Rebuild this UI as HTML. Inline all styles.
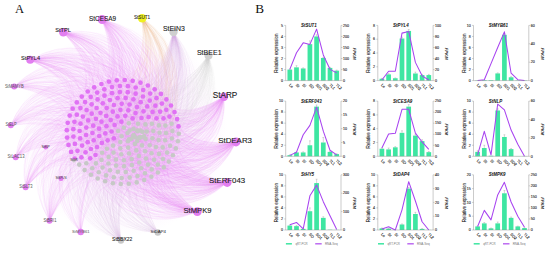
<!DOCTYPE html><html><head><meta charset="utf-8"><style>html,body{margin:0;padding:0;background:#fff;width:550px;height:254px;overflow:hidden;position:relative}</style></head><body><svg width="550" height="254" viewBox="0 0 550 254" style="position:absolute;left:0;top:0">
<defs><radialGradient id="haze" cx="122.8" cy="132" r="105" gradientUnits="userSpaceOnUse"><stop offset="0" stop-color="#e080f4" stop-opacity="0.12"/><stop offset="0.55" stop-color="#e080f4" stop-opacity="0.12"/><stop offset="1" stop-color="#e080f4" stop-opacity="0"/></radialGradient></defs>
<circle cx="122.8" cy="132" r="105" fill="url(#haze)"/>
<path d="M142.2 18.3Q171 112.6 97.7 178.5M142.2 18.3Q166.6 112.9 90.9 174.7M142.2 18.3Q162.4 112.7 84.6 170.1M142.2 18.3Q164.7 63.7 116.8 80.3M142.2 18.3Q179 51.5 140.5 82.7M142.2 18.3Q186.7 47 154.7 89.3M142.2 18.3Q198.5 94.5 151.4 176.7M142.2 18.3Q194.8 94.9 144.9 173.2M142.2 18.3Q187.8 102 129.7 177.6M142.2 18.3Q183.7 104.8 121.7 178M142.2 18.3Q179.4 107 113.8 177.3M142.2 18.3Q170.6 109.4 98.8 172.3M142.2 18.3Q154.9 106.5 77.5 150.8M142.2 18.3Q163 68.5 112 87.1M142.2 18.3Q167.8 64.3 119.9 86M142.2 18.3Q192.1 51.7 161.9 103.6M142.2 18.3Q199.8 86.1 157.8 164.6M142.2 18.3Q182.3 57 143 96.5M142.2 18.3Q189.6 55.8 155.4 105.7M142.2 18.3Q192.7 57.1 160.1 111.7M142.2 18.3Q195.2 59.4 163.5 118.4M142.2 18.3Q197.3 62.5 165.4 125.6M142.2 18.3Q199.5 70.7 165.1 140.3M142.2 18.3Q199.5 75.4 162.7 147.4M142.2 18.3Q198.7 80.2 159 153.9M142.2 18.3Q197.2 84.9 154 159.7M142.2 18.3Q192.2 93.7 141.1 168.3M142.2 18.3Q180.7 103.1 117.8 171.8M142.2 18.3Q163.4 105.9 90.2 158.3M142.2 18.3Q151.3 94.4 80.5 123.7M142.2 18.3Q151.3 90.8 82.9 116.6M142.2 18.3Q195.1 82.4 151.6 153.3M142.2 18.3Q193.1 87.1 146 158.5M142.2 18.3Q183.1 98.4 124 166.2M142.2 18.3Q174.4 102.3 108.4 163.5M142.2 18.3Q155.3 90.5 88.2 120.4M142.2 18.3Q168.7 70.1 117.6 98.2M142.2 18.3Q159.3 91 93.2 125.7M142.2 18.3Q159.6 87.2 95.9 118.8M142.2 18.3Q192.5 70.3 153.2 131M142.2 18.3Q192.9 79 149.7 145.2M142.2 18.3Q191.6 83.7 145.1 151.2M142.2 18.3Q165.3 98.7 97 147M142.2 18.3Q163.3 90.2 99.1 128.7M142.2 18.3Q189.5 73.1 146.8 131.6M142.2 18.3Q190 77.3 145.6 138.9M142.2 18.3Q189.2 81.9 142 145.4M142.2 18.3Q179.8 93.7 121.2 154.2M142.2 18.3Q174 92.6 113 145.6M142.2 18.3Q170.2 92.1 107.6 140.3M142.2 18.3Q186.1 75.2 140.3 130.6M142.2 18.3Q181.3 85.1 127.9 141.2M142.2 18.3Q187.4 74.9 142.5 131.8M142.2 18.3Q188.8 76.7 144 136.4M142.2 18.3Q184.5 80.5 135.2 137.3M142.2 18.3Q184.7 76.3 137.5 130.5" fill="none" stroke="#eaa870" stroke-width="0.6" stroke-opacity="0.135"/>
<path d="M102.1 19.5Q147.7 100.8 90.9 174.7M102.1 19.5Q133.7 96.7 71.1 151.9M102.1 19.5Q129.2 91.7 67.1 137.6M102.1 19.5Q127.7 88.6 66.8 130.2M102.1 19.5Q171.3 34.6 171 105.5M102.1 19.5Q180.8 49.6 178.8 133.8M102.1 19.5Q182 54.2 177.9 141.2M102.1 19.5Q182.7 63.8 172.9 155.3M102.1 19.5Q182.1 68.7 168.8 161.6M102.1 19.5Q181 73.4 163.8 167.4M102.1 19.5Q171.2 89.9 136.7 182.4M102.1 19.5Q160 97.9 112.9 183.2M102.1 19.5Q173.5 82.4 144.9 173.2M102.1 19.5Q167.2 89.6 129.7 177.6M102.1 19.5Q151.4 97 98.8 172.3M102.1 19.5Q140.1 95.7 81.4 157.3M102.1 19.5Q137 94 77.5 150.8M102.1 19.5Q134.5 91.8 74.9 143.9M102.1 19.5Q131.2 85.8 73.3 129.2M102.1 19.5Q131.7 73.7 80.4 108.1M102.1 19.5Q133.4 69 85.1 102.1M102.1 19.5Q141.7 53.1 104.3 89.3M102.1 19.5Q154.2 36.1 135.7 87.5M102.1 19.5Q157.4 34.5 143.2 90M102.1 19.5Q160.8 34.1 150.2 93.6M102.1 19.5Q167.4 36.4 161.9 103.6M102.1 19.5Q170.6 38.8 166.3 109.8M102.1 19.5Q179 54.4 171.9 138.5M102.1 19.5Q179.7 59.1 170.1 145.8M102.1 19.5Q139.8 61.7 97.6 99.4M102.1 19.5Q142.7 56.3 104.5 95.7M102.1 19.5Q152.3 42.6 127.8 92.2M102.1 19.5Q165.5 39.9 155.4 105.7M102.1 19.5Q171.4 45 163.5 118.4M102.1 19.5Q176.5 57.5 165.1 140.3M102.1 19.5Q175.3 72.1 154 159.7M102.1 19.5Q173.5 76.7 148 164.6M102.1 19.5Q168 84.7 133.6 170.8M102.1 19.5Q164.5 87.9 125.7 172M102.1 19.5Q160.6 90.5 117.8 171.8M102.1 19.5Q156.6 92.3 110 170.3M102.1 19.5Q152.5 93.3 102.6 167.5M102.1 19.5Q148.6 93.6 95.9 163.4M102.1 19.5Q144.9 93.1 90.2 158.3M102.1 19.5Q138.7 89.9 82.1 145.6M102.1 19.5Q135 84.2 79.6 131M102.1 19.5Q134.4 80.5 80.5 123.7M102.1 19.5Q134.5 76.4 82.9 116.6M102.1 19.5Q135.6 71.8 86.6 110.1M102.1 19.5Q137.3 66.9 91.6 104.3M102.1 19.5Q171.6 74 146 158.5M102.1 19.5Q162.7 85.4 124 166.2M102.1 19.5Q143.8 88.3 90.9 149M102.1 19.5Q138 75.9 88.2 120.4M102.1 19.5Q146 55.9 109.9 100M102.1 19.5Q149.1 51.1 117.6 98.2M102.1 19.5Q152.4 47.2 125.6 97.9M102.1 19.5Q155.8 44.5 133.4 99.3M102.1 19.5Q159.2 43.2 140.7 102.2M102.1 19.5Q165.8 44.7 152.6 111.9M102.1 19.5Q168.7 47.2 156.5 118.3M102.1 19.5Q171.1 50.7 158.9 125.4M102.1 19.5Q141.9 71.8 95.9 118.8M102.1 19.5Q143.3 66.8 100.5 112.8M102.1 19.5Q145.6 61.7 106.7 108.1M102.1 19.5Q151.8 52.4 121.7 103.8M102.1 19.5Q158.7 47.7 137 107.1M102.1 19.5Q169.8 55.9 153.2 131M102.1 19.5Q170.9 65.3 149.7 145.2M102.1 19.5Q170 70.2 145.1 151.2M102.1 19.5Q168 74.9 138.9 155.9M102.1 19.5Q165.2 79 131.7 159M102.1 19.5Q153.9 85.9 108.6 156.9M102.1 19.5Q146.7 85.1 97 147M102.1 19.5Q144 83.1 93.7 140.3M102.1 19.5Q142.2 80.1 92.4 133M102.1 19.5Q151.8 82.3 106.9 148.7M102.1 19.5Q148.5 81.3 101.9 142.9M102.1 19.5Q146.1 78.9 99.2 136M102.1 19.5Q145 75.3 99.1 128.7M102.1 19.5Q145.1 70.9 101.5 121.7M102.1 19.5Q165.4 54.8 145.4 124.4M102.1 19.5Q167.3 58.5 146.8 131.6M102.1 19.5Q167.6 68 142 145.4M102.1 19.5Q159.6 80.1 121.2 154.2M102.1 19.5Q154.4 78.5 113 145.6M102.1 19.5Q151.6 71.7 111.6 131.5M102.1 19.5Q152 67.1 114.6 125M102.1 19.5Q154.6 62.5 121.4 121.7M102.1 19.5Q158.1 60.4 128.8 123.2M102.1 19.5Q161.1 61.8 133.5 128.9M102.1 19.5Q154.5 68.8 118.1 131M102.1 19.5Q165.5 60.1 142.5 131.8M102.1 19.5Q166.9 62.2 144 136.4M102.1 19.5Q163.3 65.9 135.2 137.3M102.1 19.5Q165.3 64.3 139.7 137.4M102.1 19.5Q159.7 64.1 129.7 130.5" fill="none" stroke="#e68cf8" stroke-width="0.6" stroke-opacity="0.150"/>
<path d="M63.3 32.3Q107.7 79.7 66.8 130.2M63.3 32.3Q107 75.5 67.7 122.8M63.3 32.3Q106.9 70.9 69.7 115.6M63.3 32.3Q108 60 76.8 102.4M63.3 32.3Q110.3 47.6 87.7 91.5M63.3 32.3Q111.4 41.4 94.2 87.3M63.3 32.3Q112.6 35.8 101.4 84M63.3 32.3Q121.3 23.2 132.7 80.8M63.3 32.3Q136.3 24.8 161 93.9M63.3 32.3Q143.8 29.6 171 105.5M63.3 32.3Q152.7 40.4 178.5 126.4M63.3 32.3Q157.2 63.5 168.8 161.6M63.3 32.3Q156.3 68.1 163.8 167.4M63.3 32.3Q152.9 76.7 151.4 176.7M63.3 32.3Q147.6 84 136.7 182.4M63.3 32.3Q137.3 91.6 112.9 183.2M63.3 32.3Q143.8 83.4 129.7 177.6M63.3 32.3Q133 89.4 106.1 175.4M63.3 32.3Q129.2 90.1 98.8 172.3M63.3 32.3Q118.8 88.1 81.4 157.3M63.3 32.3Q116 86.1 77.5 150.8M63.3 32.3Q111.9 80.2 73.4 136.6M63.3 32.3Q110.1 71.9 74.4 121.8M63.3 32.3Q111.4 55.6 85.1 102.1M63.3 32.3Q116.8 33.8 112 87.1M63.3 32.3Q139.7 30.5 161.9 103.6M63.3 32.3Q143.3 33.3 166.3 109.8M63.3 32.3Q146.5 36.6 169.5 116.6M63.3 32.3Q151.5 44.6 172.4 131.1M63.3 32.3Q154.1 53.8 170.1 145.8M63.3 32.3Q154.5 58.6 167.1 152.6M63.3 32.3Q153.2 68 157.8 164.6M63.3 32.3Q141.4 35.8 160.1 111.7M63.3 32.3Q151.5 56.6 162.7 147.4M63.3 32.3Q151.4 61.5 159 153.9M63.3 32.3Q149.1 70.6 148 164.6M63.3 32.3Q141 81.4 125.7 172M63.3 32.3Q130.1 86.2 102.6 167.5M63.3 32.3Q123 85.4 90.2 158.3M63.3 32.3Q115.3 78.4 80.2 138.4M63.3 32.3Q113.9 74.6 79.6 131M63.3 32.3Q113.1 70.2 80.5 123.7M63.3 32.3Q114.3 53.8 91.6 104.3M63.3 32.3Q145 71.9 139.3 162.5M63.3 32.3Q142.4 75.6 131.9 165.1M63.3 32.3Q139.2 78.6 124 166.2M63.3 32.3Q132 82 108.4 163.5M63.3 32.3Q128.4 82.3 101.5 159.9M63.3 32.3Q124.9 81.7 95.5 155M63.3 32.3Q118.2 48.3 102.8 103.3M63.3 32.3Q119.8 43.3 109.9 100M63.3 32.3Q121.9 39.3 117.6 98.2M63.3 32.3Q127.7 35 133.4 99.3M63.3 32.3Q141.8 40.8 156.5 118.3M63.3 32.3Q144.6 44.4 158.9 125.4M63.3 32.3Q146.7 48.7 159.6 132.7M63.3 32.3Q122.5 45.1 113.9 105M63.3 32.3Q124.9 41.6 121.7 103.8M63.3 32.3Q141.4 45.2 151.9 123.7M63.3 32.3Q141.2 72.1 131.7 159M63.3 32.3Q138.1 75.2 123.9 160.2M63.3 32.3Q134.6 77.3 116 159.5M63.3 32.3Q121.9 65.4 99.1 128.7M63.3 32.3Q122.2 54.8 106.2 115.9M63.3 32.3Q129 43.6 128.3 110.3M63.3 32.3Q132.4 43.2 135.6 113.1M63.3 32.3Q135.9 44.6 141.5 118M63.3 32.3Q142.6 56.1 145.6 138.9M63.3 32.3Q142.6 61 142 145.4M63.3 32.3Q132.3 74.1 113.5 152.6M63.3 32.3Q139.4 62.2 134.9 143.9M63.3 32.3Q137.4 66.5 128.1 147.6M63.3 32.3Q124.8 55.8 110.7 120.1M63.3 32.3Q126.5 51.1 117.5 116.4M63.3 32.3Q136 49.1 138 123.7M63.3 32.3Q138.6 52.6 140.3 130.6M63.3 32.3Q132.4 51.6 128.8 123.2M63.3 32.3Q136 62.8 127.9 141.2M63.3 32.3Q133.1 65.8 120.3 142.1M63.3 32.3Q129.8 65.7 113.9 138.3M63.3 32.3Q130 59.8 118.1 131M63.3 32.3Q137.6 53.8 137.5 131.2M63.3 32.3Q139.7 52.7 142.5 131.8M63.3 32.3Q141.4 55.1 144 136.4M63.3 32.3Q138.1 58.2 135.2 137.3M63.3 32.3Q137.5 53.4 137.5 130.5" fill="none" stroke="#e68cf8" stroke-width="0.6" stroke-opacity="0.150"/>
<path d="M30.2 59.7Q106.1 95.1 97.7 178.5M30.2 59.7Q102.6 95 90.9 174.7M30.2 59.7Q90.1 88.3 71.1 151.9M30.2 59.7Q85.6 81.1 67.1 137.6M30.2 59.7Q82.5 71.3 67.7 122.8M30.2 59.7Q81.2 65.6 69.7 115.6M30.2 59.7Q80 59.5 72.7 108.7M30.2 59.7Q83.1 29.8 116.8 80.3M30.2 59.7Q86.4 28.3 124.8 80M30.2 59.7Q98.9 27.6 147.9 85.5M30.2 59.7Q119.8 37.9 174.5 112.1M30.2 59.7Q123 41.4 177.1 119.1M30.2 59.7Q125.8 45.3 178.5 126.4M30.2 59.7Q130.9 58.3 175.9 148.4M30.2 59.7Q131.4 67.3 168.8 161.6M30.2 59.7Q123 86.7 136.7 182.4M30.2 59.7Q109.7 94.6 105.1 181.3M30.2 59.7Q121.9 82.8 137.5 176M30.2 59.7Q108.9 90.8 106.1 175.4M30.2 59.7Q105.3 91.1 98.8 172.3M30.2 59.7Q101.8 90.8 92.2 168.2M30.2 59.7Q95.2 87.8 81.4 157.3M30.2 59.7Q86 73.2 73.3 129.2M30.2 59.7Q82 56.2 80.4 108.1M30.2 59.7Q80.7 45.4 90.7 96.9M30.2 59.7Q81 40.9 97.2 92.6M30.2 59.7Q82.1 37.3 104.3 89.3M30.2 59.7Q98.5 30.9 143.2 90M30.2 59.7Q102.9 31.7 150.2 93.6M30.2 59.7Q122.1 45 171.6 123.8M30.2 59.7Q128.3 62.5 167.1 152.6M30.2 59.7Q89.4 36 119.9 92M30.2 59.7Q92.7 34.7 127.8 92.2M30.2 59.7Q105.1 35.7 149.7 100.6M30.2 59.7Q109.4 37.6 155.4 105.7M30.2 59.7Q116.9 43.5 163.5 118.4M30.2 59.7Q120 47.2 165.4 125.6M30.2 59.7Q122.4 51.3 166 133M30.2 59.7Q125.1 60.3 162.7 147.4M30.2 59.7Q121.5 77.4 141.1 168.3M30.2 59.7Q119.1 80.7 133.6 170.8M30.2 59.7Q116.1 83.4 125.7 172M30.2 59.7Q102.3 86.7 95.9 163.4M30.2 59.7Q85.6 61.2 82.9 116.6M30.2 59.7Q84 50.1 91.6 104.3M30.2 59.7Q119.4 74.4 139.3 162.5M30.2 59.7Q117 77.7 131.9 165.1M30.2 59.7Q114.1 80.3 124 166.2M30.2 59.7Q110.8 82.1 116.1 165.6M30.2 59.7Q100.2 81.7 95.5 155M30.2 59.7Q90 67.4 86.3 127.6M30.2 59.7Q87.5 46.6 102.8 103.3M30.2 59.7Q101.9 38.2 140.7 102.2M30.2 59.7Q106.1 39.5 147.2 106.4M30.2 59.7Q110.2 41.7 152.6 111.9M30.2 59.7Q113.9 44.7 156.5 118.3M30.2 59.7Q90.7 48.8 106.7 108.1M30.2 59.7Q98.1 41.7 129.6 104.5M30.2 59.7Q110.2 45.4 148.6 117M30.2 59.7Q116.4 52.7 153.2 131M30.2 59.7Q118.3 57.1 152.4 138.3M30.2 59.7Q119.1 61.8 149.7 145.2M30.2 59.7Q115.4 74.1 131.7 159M30.2 59.7Q112.6 76.8 123.9 160.2M30.2 59.7Q109.3 78.5 116 159.5M30.2 59.7Q102.2 78.3 102.1 152.7M30.2 59.7Q98.9 76.3 97 147M30.2 59.7Q96 73.1 93.7 140.3M30.2 59.7Q99.7 72.3 101.9 142.9M30.2 59.7Q96.9 68.7 99.2 136M30.2 59.7Q94.2 49.6 112.8 111.7M30.2 59.7Q96.4 46.8 120.4 109.8M30.2 59.7Q107.6 47.4 141.5 118M30.2 59.7Q111.2 50.4 145.4 124.4M30.2 59.7Q115.6 58.9 145.6 138.9M30.2 59.7Q112.7 64.3 134.9 143.9M30.2 59.7Q108.2 70.4 120.3 148.2M30.2 59.7Q104.7 70.8 113 145.6M30.2 59.7Q104.1 49.4 132.6 118.4M30.2 59.7Q108 51.5 138 123.7M30.2 59.7Q100.8 53.9 121.4 121.7M30.2 59.7Q109.2 64.3 127.9 141.2M30.2 59.7Q106.5 66.7 120.3 142.1M30.2 59.7Q105.4 62.8 121.7 136.3M30.2 59.7Q113.2 58.9 140.9 137.2M30.2 59.7Q110.1 56.1 137.5 131.2M30.2 59.7Q114.2 57.8 144 136.4" fill="none" stroke="#e68cf8" stroke-width="0.6" stroke-opacity="0.150"/>
<path d="M14.2 86.4Q90.5 101.1 97.7 178.5M14.2 86.4Q70.7 88.4 68.5 144.9M14.2 86.4Q56.8 62.6 72.7 108.7M14.2 86.4Q54.6 46.8 94.2 87.3M14.2 86.4Q62.9 40 116.8 80.3M14.2 86.4Q71.3 37.9 132.7 80.8M14.2 86.4Q113.2 62.7 177.9 141.2M14.2 86.4Q109.6 91 144.2 180M14.2 86.4Q104.2 96.5 128.8 183.7M14.2 86.4Q101 98.5 120.8 184M14.2 86.4Q94.1 100.9 105.1 181.3M14.2 86.4Q105.7 90 137.5 176M14.2 86.4Q99.9 94.8 121.7 178M14.2 86.4Q85.7 96.3 92.2 168.2M14.2 86.4Q72.4 85.7 74.9 143.9M14.2 86.4Q59.3 60.7 80.4 108.1M14.2 86.4Q63.4 44.1 112 87.1M14.2 86.4Q75.4 40.7 135.7 87.5M14.2 86.4Q89.4 43 156.5 98.2M14.2 86.4Q105 54.2 171.6 123.8M14.2 86.4Q62.2 52.7 97.6 99.4M14.2 86.4Q63.6 49.6 104.5 95.7M14.2 86.4Q66 47.2 112 93.2M14.2 86.4Q82.3 44.2 143 96.5M14.2 86.4Q91.5 47.1 155.4 105.7M14.2 86.4Q108.1 77.3 154 159.7M14.2 86.4Q75.4 84.7 82.1 145.6M14.2 86.4Q69.4 75.8 79.6 131M14.2 86.4Q102.7 81.8 139.3 162.5M14.2 86.4Q100.4 84.8 131.9 165.1M14.2 86.4Q97.5 87.2 124 166.2M14.2 86.4Q79.6 84.5 90.9 149M14.2 86.4Q70.3 71.8 86.3 127.6M14.2 86.4Q68 66.8 88.2 120.4M14.2 86.4Q65.7 57.7 96.6 108M14.2 86.4Q78.7 47.1 133.4 99.3M14.2 86.4Q92.3 50.9 152.6 111.9M14.2 86.4Q102.4 61.1 159.6 132.7M14.2 86.4Q104.2 65.3 158.6 140.1M14.2 86.4Q75 51.3 121.7 103.8M14.2 86.4Q100.6 78 138.9 155.9M14.2 86.4Q88.7 85.1 108.6 156.9M14.2 86.4Q81.2 81.7 97 147M14.2 86.4Q85.5 80.4 106.9 148.7M14.2 86.4Q81.7 78 101.9 142.9M14.2 86.4Q74.3 57.2 112.8 111.7M14.2 86.4Q84.9 54.2 135.6 113.1M14.2 86.4Q98.2 66.9 145.6 138.9M14.2 86.4Q95.2 71.8 134.9 143.9M14.2 86.4Q90.6 77.2 120.3 148.2M14.2 86.4Q91.9 67.5 133.1 136" fill="none" stroke="#e68cf8" stroke-width="0.6" stroke-opacity="0.150"/>
<path d="M10.8 125.2Q56.3 103.9 71.1 151.9M10.8 125.2Q46.8 95.6 67.1 137.6M10.8 125.2Q42 91.4 66.8 130.2M10.8 125.2Q37.7 87.5 67.7 122.8M10.8 125.2Q31.2 77.4 76.8 102.4M10.8 125.2Q31.5 74.3 81.8 96.6M10.8 125.2Q32.9 71.2 87.7 91.5M10.8 125.2Q50.7 59.5 124.8 80M10.8 125.2Q80.1 61.3 166.4 99.4M10.8 125.2Q95 72.7 178.5 126.4M10.8 125.2Q97.5 76.4 178.8 133.8M10.8 125.2Q99.4 80.3 177.9 141.2M10.8 125.2Q100.7 84.3 175.9 148.4M10.8 125.2Q93.9 109.4 136.7 182.4M10.8 125.2Q91 111.7 128.8 183.7M10.8 125.2Q84.4 114.5 112.9 183.2M10.8 125.2Q94.5 102.7 144.9 173.2M10.8 125.2Q58.1 101.9 77.5 150.8M10.8 125.2Q39.2 69.7 97.2 92.6M10.8 125.2Q45.8 64.8 112 87.1M10.8 125.2Q50 62.9 119.9 86M10.8 125.2Q54.6 61.6 127.9 86.2M10.8 125.2Q69.6 61.2 150.2 93.6M10.8 125.2Q87.4 69.1 169.5 116.6M10.8 125.2Q48.1 67.3 112 93.2M10.8 125.2Q56.8 64.2 127.8 92.2M10.8 125.2Q92.9 81.8 165.1 140.3M10.8 125.2Q94.5 89.9 159 153.9M10.8 125.2Q94.1 93.8 154 159.7M10.8 125.2Q44.8 86 80.5 123.7M10.8 125.2Q90.8 86.7 155.9 147M10.8 125.2Q86.1 100.4 131.9 165.1M10.8 125.2Q71.3 102.8 101.5 159.9M10.8 125.2Q53.5 91 86.1 135M10.8 125.2Q49.8 87.1 86.3 127.6M10.8 125.2Q47 73.2 102.8 103.3M10.8 125.2Q53.3 68.5 117.6 98.2M10.8 125.2Q67.4 66.6 140.7 102.2M10.8 125.2Q77.1 69.4 152.6 111.9M10.8 125.2Q50.3 81.3 95.9 118.8M10.8 125.2Q51.2 74.7 106.7 108.1M10.8 125.2Q62.3 69.4 129.6 104.5M10.8 125.2Q87.2 86.7 149.7 145.2M10.8 125.2Q68.7 72.6 135.6 113.1M10.8 125.2Q78.1 91.3 128.1 147.6M10.8 125.2Q58.6 79.7 110.7 120.1M10.8 125.2Q64.3 75.4 125.3 115.8M10.8 125.2Q63.9 85.3 111.6 131.5M10.8 125.2Q80.2 83.8 140.9 137.2M10.8 125.2Q79 80.8 142.5 131.8M10.8 125.2Q77.5 84.7 135.2 137.3" fill="none" stroke="#e68cf8" stroke-width="0.6" stroke-opacity="0.150"/>
<path d="M15.7 157.2Q21.1 108.8 67.7 122.8M15.7 157.2Q67.7 78.1 161 93.9M15.7 157.2Q93 100.8 175.9 148.4M15.7 157.2Q93.7 104.7 172.9 155.3M15.7 157.2Q86.2 118 144.9 173.2M15.7 157.2Q73.4 125.1 113.8 177.3M15.7 157.2Q59.6 123.5 92.2 168.2M15.7 157.2Q54.3 121.7 86.3 163.2M15.7 157.2Q32.1 111.9 73.4 136.6M15.7 157.2Q28 109.4 73.3 129.2M15.7 157.2Q24.7 97.3 85.1 102.1M15.7 157.2Q32.8 87.7 104.3 89.3M15.7 157.2Q71.1 82.2 161.9 103.6M15.7 157.2Q89.3 111.6 157.8 164.6M15.7 157.2Q34.9 90.1 104.5 95.7M15.7 157.2Q43.1 85.2 119.9 92M15.7 157.2Q68.2 84.2 155.4 105.7M15.7 157.2Q84.5 113.1 148 164.6M15.7 157.2Q76.7 120.4 125.7 172M15.7 157.2Q33.1 108.6 79.6 131M15.7 157.2Q68.6 87.4 152.6 111.9M15.7 157.2Q81.2 99.4 158.6 140.1M15.7 157.2Q38 100.7 95.9 118.8M15.7 157.2Q38.5 97.5 100.5 112.8M15.7 157.2Q66.8 115.3 116 159.5M15.7 157.2Q62 115.1 108.6 156.9M15.7 157.2Q56.8 114 102.1 152.7M15.7 157.2Q68.7 94.2 145.4 124.4M15.7 157.2Q74 100.8 145.6 138.9M15.7 157.2Q74.5 104.5 142 145.4M15.7 157.2Q70.2 101.3 139.2 137.8M15.7 157.2Q47.3 101.6 106.4 126.2M15.7 157.2Q54.4 93.9 125.3 115.8M15.7 157.2Q59.5 93.7 132.6 118.4M15.7 157.2Q64.4 95.1 138 123.7M15.7 157.2Q52.6 102.9 111.6 131.5M15.7 157.2Q54.3 97.1 121.4 121.7M15.7 157.2Q63.8 98.2 133.5 128.9M15.7 157.2Q66.3 101.4 133.1 136M15.7 157.2Q62 101 127.5 133M15.7 157.2Q60.2 103.4 121.7 136.3M15.7 157.2Q66.8 98.5 137.5 131.2M15.7 157.2Q62.3 99.5 129.7 130.5M15.7 157.2Q66.4 103 131.4 138.8" fill="none" stroke="#e68cf8" stroke-width="0.6" stroke-opacity="0.150"/>
<path d="M25.6 187.3Q44.7 142.9 84.6 170.1M25.6 187.3Q25.8 140.7 71.1 151.9M25.6 187.3Q14.9 136.2 66.8 130.2M25.6 187.3Q16.3 118.8 81.8 96.6M25.6 187.3Q68 98.5 166.4 99.4M25.6 187.3Q62.4 144.5 105.1 181.3M25.6 187.3Q65 141.2 113.8 177.3M25.6 187.3Q17.4 127.2 76.8 114.7M25.6 187.3Q21.9 116 90.7 96.9M25.6 187.3Q74.6 105.2 169.5 116.6M25.6 187.3Q34 108.3 112 93.2M25.6 187.3Q38.5 105.8 119.9 92M25.6 187.3Q43.4 103.9 127.8 92.2M25.6 187.3Q71.7 107.1 163.5 118.4M25.6 187.3Q75 109.9 165.4 125.6M25.6 187.3Q80.3 119.9 162.7 147.4M25.6 187.3Q78.3 130.1 148 164.6M25.6 187.3Q64.7 138.1 117.8 171.8M25.6 187.3Q59.7 138.7 110 170.3M25.6 187.3Q76.2 124.4 151.6 153.3M25.6 187.3Q75 127.6 146 158.5M25.6 187.3Q72.8 130.5 139.3 162.5M25.6 187.3Q69.7 132.9 131.9 165.1M25.6 187.3Q65.7 134.6 124 166.2M25.6 187.3Q33.4 132.8 87.7 142.2M25.6 187.3Q26.4 125.3 88.2 120.4M25.6 187.3Q58.8 105.3 147.2 106.4M25.6 187.3Q73.9 114 159.6 132.7M25.6 187.3Q38.3 112.4 113.9 105M25.6 187.3Q62.6 109.4 148.6 117M25.6 187.3Q66.6 111.6 151.9 123.7M25.6 187.3Q63.3 132 123.9 160.2M25.6 187.3Q47.1 133 102.1 152.7M25.6 187.3Q36.7 130.5 93.7 140.3M25.6 187.3Q48.4 130.5 106.9 148.7M25.6 187.3Q38.7 127.7 99.2 136M25.6 187.3Q35.4 121.9 101.5 121.7M25.6 187.3Q36.6 118.5 106.2 115.9M25.6 187.3Q63 113.1 145.4 124.4M25.6 187.3Q67.9 119.1 145.6 138.9M25.6 187.3Q56.4 127.6 120.3 148.2M25.6 187.3Q45.7 127.2 107.6 140.3M25.6 187.3Q40.7 119 110.7 120.1M25.6 187.3Q58.4 114.3 138 123.7M25.6 187.3Q47.8 117 121.4 121.7M25.6 187.3Q58.4 123.4 127.9 141.2M25.6 187.3Q48.8 125.1 113.9 138.3M25.6 187.3Q60.6 117.4 137.5 131.2M25.6 187.3Q61.3 120.4 135.2 137.3M25.6 187.3Q55.7 118.7 129.7 130.5" fill="none" stroke="#e68cf8" stroke-width="0.6" stroke-opacity="0.150"/>
<path d="M49.5 220.7Q36.5 174.1 84.6 170.1M49.5 220.7Q23.2 174.7 71.1 151.9M49.5 220.7Q20.5 173.1 68.5 144.9M49.5 220.7Q16.4 163.9 67.7 122.8M49.5 220.7Q22.3 142.5 87.7 91.5M49.5 220.7Q25.3 138.4 94.2 87.3M49.5 220.7Q36.8 128.3 116.8 80.3M49.5 220.7Q41.4 125.9 124.8 80M49.5 220.7Q46.1 124 132.7 80.8M49.5 220.7Q65.2 122.1 161 93.9M49.5 220.7Q83.3 131.6 178.5 126.4M49.5 220.7Q85.5 134.6 178.8 133.8M49.5 220.7Q87.9 148.2 168.8 161.6M49.5 220.7Q71.8 164.9 128.8 183.7M49.5 220.7Q77.6 157.6 144.9 173.2M49.5 220.7Q65 164.4 121.7 178M49.5 220.7Q47.3 169.1 98.8 172.3M49.5 220.7Q27.1 171.1 77.5 150.8M49.5 220.7Q25 143.8 90.7 96.9M49.5 220.7Q54 125 143.2 90M49.5 220.7Q67.9 125.9 161.9 103.6M49.5 220.7Q72 127.4 166.3 109.8M49.5 220.7Q81 134.9 172.4 131.1M49.5 220.7Q82.8 138 171.9 138.5M49.5 220.7Q84.1 144.8 167.1 152.6M49.5 220.7Q83.6 148.2 163 159M49.5 220.7Q40.8 132.4 119.9 92M49.5 220.7Q55.3 127.8 143 96.5M49.5 220.7Q60.1 127.7 149.7 100.6M49.5 220.7Q75.4 134.1 165.4 125.6M49.5 220.7Q79.2 140.2 165.1 140.3M49.5 220.7Q78.5 150.4 154 159.7M49.5 220.7Q69.8 159.1 133.6 170.8M49.5 220.7Q66.7 157.3 131.9 165.1M49.5 220.7Q27.9 158.3 86.3 127.6M49.5 220.7Q30.3 146.5 96.6 108M49.5 220.7Q33.1 142.4 102.8 103.3M49.5 220.7Q68.3 133.2 156.5 118.3M49.5 220.7Q69.6 139.1 153.2 131M49.5 220.7Q54.6 159.5 116 159.5M49.5 220.7Q48.9 160.9 108.6 156.9M49.5 220.7Q43.4 161.7 102.1 152.7M49.5 220.7Q40.8 158.3 101.9 142.9M49.5 220.7Q44.7 139.5 120.4 109.8M49.5 220.7Q62.9 145.2 139.2 137.8M49.5 220.7Q48.9 140.5 125.3 115.8M49.5 220.7Q54 139.4 132.6 118.4M49.5 220.7Q44.2 150.8 111.6 131.5M49.5 220.7Q57.1 143.3 133.5 128.9M49.5 220.7Q47.3 152.6 113.9 138.3M49.5 220.7Q55.2 144.9 129.7 130.5" fill="none" stroke="#e68cf8" stroke-width="0.6" stroke-opacity="0.150"/>
<path d="M80.7 232Q54.5 194.2 97.7 178.5M80.7 232Q80.1 137.6 166.4 99.4M80.7 232Q90.7 142.9 177.1 119.1M80.7 232Q90.5 171.7 151.4 176.7M80.7 232Q87 174.8 144.2 180M80.7 232Q39 193 77.5 150.8M80.7 232Q82.2 142 166.3 109.8M80.7 232Q92.3 162.2 163 159M80.7 232Q79 144.5 160.1 111.7M80.7 232Q88.9 157.9 162.7 147.4M80.7 232Q38.4 185.4 80.2 138.4M80.7 232Q37 182 79.6 131M80.7 232Q36.5 173.4 82.9 116.6M80.7 232Q37.4 168.8 86.6 110.1M80.7 232Q74 173.9 131.9 165.1M80.7 232Q69.1 177.2 124 166.2M80.7 232Q40.9 181.1 86.1 135M80.7 232Q48.2 155.6 109.9 100M80.7 232Q78.3 148.3 156.5 118.3M80.7 232Q45.7 180.2 93.7 140.3M80.7 232Q48.1 175.9 99.2 136M80.7 232Q46.8 172.7 99.1 128.7M80.7 232Q69.3 152.7 141.5 118M80.7 232Q76.2 159.7 145.6 138.9M80.7 232Q73.1 167.1 136.3 150.4M80.7 232Q59.3 176.7 113.5 152.6M80.7 232Q62.6 172.2 120.3 148.2M80.7 232Q71.2 158.2 140.3 130.6M80.7 232Q63.9 163.5 127.5 133M80.7 232Q74.7 159.3 144 136.4M80.7 232Q67.5 164.4 131.4 138.8" fill="none" stroke="#e68cf8" stroke-width="0.6" stroke-opacity="0.150"/>
<path d="M120.9 240.5Q61.1 220.2 74.6 158.5M120.9 240.5Q55.8 214 68.5 144.9M120.9 240.5Q53.8 210.1 67.1 137.6M120.9 240.5Q57 172.7 94.2 87.3M120.9 240.5Q63.2 165 108.9 81.6M120.9 240.5Q91.9 153.8 161 93.9M120.9 240.5Q105.4 159.6 177.1 119.1M120.9 240.5Q107.6 162.2 178.5 126.4M120.9 240.5Q110.2 175.5 172.9 155.3M120.9 240.5Q109.1 179.3 168.8 161.6M120.9 240.5Q107.2 183.4 163.8 167.4M120.9 240.5Q104.6 187.5 157.9 172.5M120.9 240.5Q93 201.7 136.7 182.4M120.9 240.5Q80.6 216.9 112.9 183.2M120.9 240.5Q92.4 198.8 137.5 176M120.9 240.5Q76.4 216.4 106.1 175.4M120.9 240.5Q63.4 216.9 81.4 157.3M120.9 240.5Q56.1 207.3 73.4 136.6M120.9 240.5Q54.7 203 73.3 129.2M120.9 240.5Q53.8 198.3 74.4 121.8M120.9 240.5Q54 188.6 80.4 108.1M120.9 240.5Q59.2 174.5 97.2 92.6M120.9 240.5Q81.8 157.8 143.2 90M120.9 240.5Q106.5 172.8 170.1 145.8M120.9 240.5Q63.1 173.7 104.5 95.7M120.9 240.5Q70.1 166.6 119.9 92M120.9 240.5Q82.7 161 143 96.5M120.9 240.5Q99.8 166.2 165.4 125.6M120.9 240.5Q101.5 169.1 166 133M120.9 240.5Q101.3 180.2 159 153.9M120.9 240.5Q96.7 189.1 148 164.6M120.9 240.5Q85.1 203.6 125.7 172M120.9 240.5Q81.1 207.9 117.8 171.8M120.9 240.5Q59.2 205.9 80.2 138.4M120.9 240.5Q98.1 178.7 155.9 147M120.9 240.5Q79.3 205.6 116.1 165.6M120.9 240.5Q68.5 209.5 95.5 155M120.9 240.5Q65.5 208 90.9 149M120.9 240.5Q61.1 201.7 86.1 135M120.9 240.5Q60 187.8 91.7 113.7M120.9 240.5Q69.9 170.5 117.6 98.2M120.9 240.5Q73.9 167.6 125.6 97.9M120.9 240.5Q78.1 165.5 133.4 99.3M120.9 240.5Q90.3 164.8 152.6 111.9M120.9 240.5Q98.4 174.8 158.6 140.1M120.9 240.5Q63.9 184.1 100.5 112.8M120.9 240.5Q69.1 175.3 113.9 105M120.9 240.5Q91.8 170.3 151.9 123.7M120.9 240.5Q93.8 173 153.2 131M120.9 240.5Q94.6 176.4 152.4 138.3M120.9 240.5Q94.2 180.5 149.7 145.2M120.9 240.5Q82.4 198.9 123.9 160.2M120.9 240.5Q67.8 204.2 97 147M120.9 240.5Q67 197.2 99.2 136M120.9 240.5Q81.3 171.4 135.6 113.1M120.9 240.5Q85.2 171.5 141.5 118M120.9 240.5Q87.1 181.5 139.2 137.8M120.9 240.5Q78.8 194.6 120.3 148.2M120.9 240.5Q71.5 196.1 107.6 140.3M120.9 240.5Q69.8 184.2 110.7 120.1M120.9 240.5Q72.6 179.8 117.5 116.4M120.9 240.5Q80.6 175 132.6 118.4M120.9 240.5Q86.6 177.8 140.3 130.6M120.9 240.5Q83.7 182.4 133.8 135M120.9 240.5Q81.8 186.5 128.9 139.4M120.9 240.5Q89.5 178.9 144 136.4" fill="none" stroke="#d6aade" stroke-width="0.6" stroke-opacity="0.150"/>
<path d="M157.8 232.5Q86.5 228.9 74.6 158.5M157.8 232.5Q78.6 180.7 94.2 87.3M157.8 232.5Q81.1 176.6 101.4 84M157.8 232.5Q91.1 167.1 124.8 80M157.8 232.5Q120.4 165.9 174.5 112.1M157.8 232.5Q122.8 168.2 177.1 119.1M157.8 232.5Q126.8 177.8 177.9 141.2M157.8 232.5Q125 191.1 168.8 161.6M157.8 232.5Q109.8 230.8 120.8 184M157.8 232.5Q117.4 204.5 151.7 169.4M157.8 232.5Q112.8 216.8 137.5 176M157.8 232.5Q95.7 230.2 92.2 168.2M157.8 232.5Q85.5 223.3 77.5 150.8M157.8 232.5Q78.4 211.2 73.3 129.2M157.8 232.5Q77.4 191.9 85.1 102.1M157.8 232.5Q80.8 182.7 97.2 92.6M157.8 232.5Q89.8 172 119.9 86M157.8 232.5Q123.2 183.3 170.1 145.8M157.8 232.5Q87.4 178.4 112 93.2M157.8 232.5Q106 169.5 149.7 100.6M157.8 232.5Q112.8 171.2 160.1 111.7M157.8 232.5Q119.1 179.2 166 133M157.8 232.5Q117 198.1 154 159.7M157.8 232.5Q108 220.2 125.7 172M157.8 232.5Q105.3 223.6 117.8 171.8M157.8 232.5Q102.4 225.6 110 170.3M157.8 232.5Q95.6 225.9 95.9 163.4M157.8 232.5Q81.3 210.6 79.6 131M157.8 232.5Q114.9 196 151.6 153.3M157.8 232.5Q111 207.4 139.3 162.5M157.8 232.5Q100 221.7 108.4 163.5M157.8 232.5Q96.6 221.8 101.5 159.9M157.8 232.5Q83.2 206.5 86.3 127.6M157.8 232.5Q87.7 182.9 109.9 100M157.8 232.5Q105.7 173.4 147.2 106.4M157.8 232.5Q109.1 174.2 152.6 111.9M157.8 232.5Q85.2 198.3 95.9 118.8M157.8 232.5Q90.2 184.5 113.9 105M157.8 232.5Q101 177.5 137 107.1M157.8 232.5Q104.7 177.3 143.5 111.3M157.8 232.5Q101.7 216.2 116 159.5M157.8 232.5Q107.6 201.8 136.3 150.4M157.8 232.5Q94.3 207.3 107.6 140.3M157.8 232.5Q91.9 203.9 105.3 133.4M157.8 232.5Q104 186.1 138 123.7M157.8 232.5Q106.2 188.9 140.3 130.6M157.8 232.5Q96.3 203.8 113.9 138.3M157.8 232.5Q100.9 195.5 127.5 133M157.8 232.5Q106.5 196 137.2 141M157.8 232.5Q107 192.9 139.7 137.4M157.8 232.5Q104.9 190 137.5 130.5" fill="none" stroke="#d6aade" stroke-width="0.6" stroke-opacity="0.150"/>
<path d="M197.3 211.6Q133.7 236.6 97.7 178.5M197.3 211.6Q129.4 235.6 90.9 174.7M197.3 211.6Q125.1 234 84.6 170.1M197.3 211.6Q110 222.4 68.5 144.9M197.3 211.6Q102.2 205.1 69.7 115.6M197.3 211.6Q102.5 191.2 81.8 96.6M197.3 211.6Q103.8 186.9 87.7 91.5M197.3 211.6Q105.6 182.8 94.2 87.3M197.3 211.6Q107.8 179 101.4 84M197.3 211.6Q120.3 168.3 132.7 80.8M197.3 211.6Q123.9 166.9 140.5 82.7M197.3 211.6Q134.7 166.5 161 93.9M197.3 211.6Q141 169.2 171 105.5M197.3 211.6Q143.7 171.5 174.5 112.1M197.3 211.6Q146 174.4 177.1 119.1M197.3 211.6Q147.8 177.9 178.5 126.4M197.3 211.6Q150.1 186.8 177.9 141.2M197.3 211.6Q150.6 192.2 175.9 148.4M197.3 211.6Q151.2 204.8 168.8 161.6M197.3 211.6Q151.6 211.5 163.8 167.4M197.3 211.6Q152 217.8 157.9 172.5M197.3 211.6Q148.3 233.9 128.8 183.7M197.3 211.6Q137.9 236.9 105.1 181.3M197.3 211.6Q149.2 217.9 151.7 169.4M197.3 211.6Q148.8 222.9 144.9 173.2M197.3 211.6Q147.7 226.8 137.5 176M197.3 211.6Q143.1 231.7 121.7 178M197.3 211.6Q135.9 233.2 106.1 175.4M197.3 211.6Q131.8 232.7 98.8 172.3M197.3 211.6Q123.3 229.7 86.3 163.2M197.3 211.6Q112.4 220.6 74.9 143.9M197.3 211.6Q107.4 212.3 73.3 129.2M197.3 211.6Q105.2 193.7 85.1 102.1M197.3 211.6Q110.2 181.3 104.3 89.3M197.3 211.6Q112.9 178 112 87.1M197.3 211.6Q115.9 175.1 119.9 86M197.3 211.6Q122.8 171.3 135.7 87.5M197.3 211.6Q126.4 170.3 143.2 90M197.3 211.6Q130 170 150.2 93.6M197.3 211.6Q139.7 173.5 166.3 109.8M197.3 211.6Q144.4 179.4 171.6 123.8M197.3 211.6Q147.2 188.1 171.9 138.5M197.3 211.6Q148 193.4 170.1 145.8M197.3 211.6Q148.4 199.4 167.1 152.6M197.3 211.6Q148.8 205.7 163 159M197.3 211.6Q149.1 212 157.8 164.6M197.3 211.6Q111.6 185.1 104.5 95.7M197.3 211.6Q117.1 178.6 119.9 92M197.3 211.6Q120.4 176.4 127.8 92.2M197.3 211.6Q124 174.9 135.6 93.7M197.3 211.6Q134.4 175.2 155.4 105.7M197.3 211.6Q137.5 177 160.1 111.7M197.3 211.6Q142.2 183.1 165.4 125.6M197.3 211.6Q145 192.3 165.1 140.3M197.3 211.6Q146.2 204 159 153.9M197.3 211.6Q146.3 215.8 148 164.6M197.3 211.6Q145.6 220.6 141.1 168.3M197.3 211.6Q142 227 125.7 172M197.3 211.6Q135.5 229.4 110 170.3M197.3 211.6Q127.4 228 95.9 163.4M197.3 211.6Q119.4 223.4 85.5 152.3M197.3 211.6Q112.9 216.3 80.2 138.4M197.3 211.6Q107.8 198.1 86.6 110.1M197.3 211.6Q108.4 193.4 91.6 104.3M197.3 211.6Q143.3 200.7 155.9 147M197.3 211.6Q143.7 206.6 151.6 153.3M197.3 211.6Q143.6 212.2 146 158.5M197.3 211.6Q142.9 217.1 139.3 162.5M197.3 211.6Q136 225.1 116.1 165.6M197.3 211.6Q128.3 224.7 101.5 159.9M197.3 211.6Q120.5 220.4 90.9 149M197.3 211.6Q112.3 208.6 86.3 127.6M197.3 211.6Q111.3 194.4 96.6 108M197.3 211.6Q112.7 190 102.8 103.3M197.3 211.6Q114.8 186.2 109.9 100M197.3 211.6Q120.7 180.5 125.6 97.9M197.3 211.6Q131.2 178.6 147.2 106.4M197.3 211.6Q139.6 185.6 158.9 125.4M197.3 211.6Q142.6 195 158.6 140.1M197.3 211.6Q114.1 196.3 100.5 112.8M197.3 211.6Q120.4 185.1 121.7 103.8M197.3 211.6Q123.7 183.2 129.6 104.5M197.3 211.6Q127.2 182.4 137 107.1M197.3 211.6Q133.8 184.4 148.6 117M197.3 211.6Q138.6 191.3 153.2 131M197.3 211.6Q140.8 201.9 149.7 145.2M197.3 211.6Q140.9 207.6 145.1 151.2M197.3 211.6Q139.1 217 131.7 159M197.3 211.6Q136.8 219.9 123.9 160.2M197.3 211.6Q118.9 214.5 93.7 140.3M197.3 211.6Q116.3 210.5 92.4 133M197.3 211.6Q119.8 210.7 99.2 136M197.3 211.6Q117.7 206.3 99.1 128.7M197.3 211.6Q116.8 201.5 101.5 121.7M197.3 211.6Q117.1 196.7 106.2 115.9M197.3 211.6Q118.7 192.4 112.8 111.7M197.3 211.6Q121.2 189.1 120.4 109.8M197.3 211.6Q127.9 186.5 135.6 113.1M197.3 211.6Q134.2 190.1 145.4 124.4M197.3 211.6Q136.4 194.1 146.8 131.6M197.3 211.6Q137.7 199.2 145.6 138.9M197.3 211.6Q138.2 204.7 142 145.4M197.3 211.6Q137.8 210 136.3 150.4M197.3 211.6Q133.8 216.7 121.2 154.2M197.3 211.6Q135.2 200.7 139.2 137.8M197.3 211.6Q135.3 206.1 134.9 143.9M197.3 211.6Q134.1 210.5 128.1 147.6M197.3 211.6Q131.5 213 120.3 148.2M197.3 211.6Q124.4 211.3 107.6 140.3M197.3 211.6Q121.4 207.6 105.3 133.4M197.3 211.6Q124.5 191.3 125.3 115.8M197.3 211.6Q128 190.7 132.6 118.4M197.3 211.6Q131.2 192.2 138 123.7M197.3 211.6Q133.8 195.8 140.3 130.6M197.3 211.6Q123.3 204.9 111.6 131.5M197.3 211.6Q122.7 200 114.6 125M197.3 211.6Q124.5 196.1 121.4 121.7M197.3 211.6Q130.8 196.9 133.5 128.9M197.3 211.6Q132.5 201.5 133.1 136M197.3 211.6Q126.1 208.5 113.9 138.3M197.3 211.6Q129.7 201.4 127.5 133M197.3 211.6Q135.6 199.7 140.9 137.2M197.3 211.6Q132.9 197.1 137.5 131.2M197.3 211.6Q135.3 203.5 137.2 141M197.3 211.6Q131.9 205 128.9 139.4M197.3 211.6Q136.5 198.2 144 136.4M197.3 211.6Q133.6 201.7 135.2 137.3M197.3 211.6Q135.2 200.3 139.7 137.4M197.3 211.6Q129.8 199.1 129.7 130.5" fill="none" stroke="#e68cf8" stroke-width="0.6" stroke-opacity="0.150"/>
<path d="M227.2 182.5Q156.3 227 90.9 174.7M227.2 182.5Q147.2 223.6 79.2 164.6M227.2 182.5Q143 221.1 74.6 158.5M227.2 182.5Q139.2 218.1 71.1 151.9M227.2 182.5Q135.8 214.7 68.5 144.9M227.2 182.5Q127.4 198.4 69.7 115.6M227.2 182.5Q126.8 189.7 76.8 102.4M227.2 182.5Q128.5 181.4 87.7 91.5M227.2 182.5Q130.1 177.6 94.2 87.3M227.2 182.5Q134.8 171.1 108.9 81.6M227.2 182.5Q144.2 164.9 132.7 80.8M227.2 182.5Q154.9 163.9 154.7 89.3M227.2 182.5Q164.9 168.9 171 105.5M227.2 182.5Q170.7 175.7 177.1 119.1M227.2 182.5Q173.3 180.1 178.5 126.4M227.2 182.5Q181 196.5 175.9 148.4M227.2 182.5Q185.5 207.2 168.8 161.6M227.2 182.5Q186.8 211.7 163.8 167.4M227.2 182.5Q186.3 218.9 151.4 176.7M227.2 182.5Q181.9 224 136.7 182.4M227.2 182.5Q174.6 227.2 120.8 184M227.2 182.5Q170.3 228 112.9 183.2M227.2 182.5Q165.7 228.2 105.1 181.3M227.2 182.5Q182.7 214.9 151.7 169.4M227.2 182.5Q179.3 220.6 137.5 176M227.2 182.5Q176.3 222.6 129.7 177.6M227.2 182.5Q172.6 224.1 121.7 178M227.2 182.5Q163.9 225.1 106.1 175.4M227.2 182.5Q159.3 224.6 98.8 172.3M227.2 182.5Q150 221.7 86.3 163.2M227.2 182.5Q133.1 205.4 73.3 129.2M227.2 182.5Q131.4 201.1 74.4 121.8M227.2 182.5Q130.3 188 85.1 102.1M227.2 182.5Q131.2 183.9 90.7 96.9M227.2 182.5Q132.8 180.1 97.2 92.6M227.2 182.5Q134.9 176.6 104.3 89.3M227.2 182.5Q137.4 173.6 112 87.1M227.2 182.5Q143.6 169.3 127.9 86.2M227.2 182.5Q147 168.2 135.7 87.5M227.2 182.5Q150.6 167.7 143.2 90M227.2 182.5Q154.2 167.9 150.2 93.6M227.2 182.5Q164.4 173.3 166.3 109.8M227.2 182.5Q167.4 176.6 169.5 116.6M227.2 182.5Q175.5 190.7 171.9 138.5M227.2 182.5Q180.2 201.6 167.1 152.6M227.2 182.5Q181.9 206.7 163 159M227.2 182.5Q182.8 211.1 157.8 164.6M227.2 182.5Q134.8 184 97.6 99.4M227.2 182.5Q136.6 180.3 104.5 95.7M227.2 182.5Q139 177.2 112 93.2M227.2 182.5Q141.9 174.7 119.9 92M227.2 182.5Q145.1 173 127.8 92.2M227.2 182.5Q148.6 171.9 135.6 93.7M227.2 182.5Q152.2 171.7 143 96.5M227.2 182.5Q155.8 172.4 149.7 100.6M227.2 182.5Q162.7 176.4 160.1 111.7M227.2 182.5Q165.9 179.8 163.5 118.4M227.2 182.5Q168.8 183.9 165.4 125.6M227.2 182.5Q174.1 193.9 165.1 140.3M227.2 182.5Q178.9 208.8 154 159.7M227.2 182.5Q178.7 212.7 148 164.6M227.2 182.5Q172 220.3 125.7 172M227.2 182.5Q168.2 221.5 117.8 171.8M227.2 182.5Q163.9 221.8 110 170.3M227.2 182.5Q159.3 221.5 102.6 167.5M227.2 182.5Q150.2 218.5 90.2 158.3M227.2 182.5Q146 216 85.5 152.3M227.2 182.5Q136.5 205.3 79.6 131M227.2 182.5Q134.6 201.1 80.5 123.7M227.2 182.5Q133.5 196.7 82.9 116.6M227.2 182.5Q133.7 188 91.6 104.3M227.2 182.5Q175.1 209.5 146 158.5M227.2 182.5Q171.9 215.7 131.9 165.1M227.2 182.5Q168.8 217.5 124 166.2M227.2 182.5Q160.5 218.4 108.4 163.5M227.2 182.5Q156 217.6 101.5 159.9M227.2 182.5Q151.5 215.9 95.5 155M227.2 182.5Q140.6 206.4 86.1 135M227.2 182.5Q137 197.9 88.2 120.4M227.2 182.5Q136.5 193.4 91.7 113.7M227.2 182.5Q138.1 185.2 102.8 103.3M227.2 182.5Q140.1 181.7 109.9 100M227.2 182.5Q145.8 177 125.6 97.9M227.2 182.5Q149.2 175.9 133.4 99.3M227.2 182.5Q152.9 175.8 140.7 102.2M227.2 182.5Q166.5 185.7 158.9 125.4M227.2 182.5Q169.3 190.3 159.6 132.7M227.2 182.5Q140.7 200 93.2 125.7M227.2 182.5Q141.1 187.2 106.7 108.1M227.2 182.5Q143.1 183.9 113.9 105M227.2 182.5Q145.9 181.4 121.7 103.8M227.2 182.5Q152.8 179.8 137 107.1M227.2 182.5Q156.5 180.8 143.5 111.3M227.2 182.5Q163.5 186.5 151.9 123.7M227.2 182.5Q166.5 190.8 153.2 131M227.2 182.5Q171.5 205.3 145.1 151.2M227.2 182.5Q171 209.3 138.9 155.9M227.2 182.5Q166.3 214.2 123.9 160.2M227.2 182.5Q145.7 208.1 93.7 140.3M227.2 182.5Q142.7 204.3 92.4 133M227.2 182.5Q154.4 210.6 106.9 148.7M227.2 182.5Q150.2 208.2 101.9 142.9M227.2 182.5Q144.2 200.6 99.1 128.7M227.2 182.5Q143 196.2 101.5 121.7M227.2 182.5Q143.2 191.9 106.2 115.9M227.2 182.5Q144.7 188.1 112.8 111.7M227.2 182.5Q150.4 183.9 128.3 110.3M227.2 182.5Q154.1 183.9 135.6 113.1M227.2 182.5Q157.8 185.5 141.5 118M227.2 182.5Q161.4 188.6 145.4 124.4M227.2 182.5Q164.4 192.8 146.8 131.6M227.2 182.5Q165.9 209.6 129.1 153.5M227.2 182.5Q162.8 211.3 121.2 154.2M227.2 182.5Q158.7 211.7 113.5 152.6M227.2 182.5Q163.8 198.3 139.2 137.8M227.2 182.5Q164.4 202.9 134.9 143.9M227.2 182.5Q163.1 206.3 128.1 147.6M227.2 182.5Q160.1 208 120.3 148.2M227.2 182.5Q151.8 205.7 107.6 140.3M227.2 182.5Q146.5 197.8 106.4 126.2M227.2 182.5Q148 189.9 117.5 116.4M227.2 182.5Q150.9 187.9 125.3 115.8M227.2 182.5Q154.6 187.8 132.6 118.4M227.2 182.5Q158.4 189.9 138 123.7M227.2 182.5Q161.6 193.6 140.3 130.6M227.2 182.5Q150.5 200 111.6 131.5M227.2 182.5Q149.5 195.6 114.6 125M227.2 182.5Q151.2 192.2 121.4 121.7M227.2 182.5Q158.4 194.1 133.5 128.9M227.2 182.5Q153.7 203.5 113.9 138.3M227.2 182.5Q156.3 200.9 121.7 136.3M227.2 182.5Q154.2 195.3 123.9 127.7M227.2 182.5Q160.7 197.7 133.8 135M227.2 182.5Q160.7 194.6 137.5 131.2M227.2 182.5Q162.9 193.9 142.5 131.8M227.2 182.5Q165.1 196.4 144 136.4M227.2 182.5Q163.8 197.9 139.7 137.4M227.2 182.5Q157.5 195.8 129.7 130.5" fill="none" stroke="#e68cf8" stroke-width="0.6" stroke-opacity="0.150"/>
<path d="M236 142Q174.5 207.4 90.9 174.7M236 142Q169.6 206.3 84.6 170.1M236 142Q160.7 202.3 74.6 158.5M236 142Q153.2 196.5 68.5 144.9M236 142Q150.2 193.1 67.1 137.6M236 142Q147.7 189.4 66.8 130.2M236 142Q143.8 177.3 72.7 108.7M236 142Q144.2 169.3 81.8 96.6M236 142Q148.9 158.9 101.4 84M236 142Q151.4 156.2 108.9 81.6M236 142Q157.5 152.2 124.8 80M236 142Q164.6 150.4 140.5 82.7M236 142Q168.3 150.5 147.9 85.5M236 142Q172.2 151.3 154.7 89.3M236 142Q176.2 152.8 161 93.9M236 142Q180.2 155 166.4 99.4M236 142Q184.3 157.9 171 105.5M236 142Q193 165.5 177.1 119.1M236 142Q202.2 174.2 178.8 133.8M236 142Q212.2 185.5 172.9 155.3M236 142Q213.2 188.8 168.8 161.6M236 142Q213 192 163.8 167.4M236 142Q209.5 198 151.4 176.7M236 142Q206.5 200.6 144.2 180M236 142Q202.9 203 136.7 182.4M236 142Q198.8 205 128.8 183.7M236 142Q189.5 207.6 112.9 183.2M236 142Q206.6 195 151.7 169.4M236 142Q201 200.2 137.5 176M236 142Q183 205.3 106.1 175.4M236 142Q178 205.1 98.8 172.3M236 142Q173 204.2 92.2 168.2M236 142Q163.8 200.7 81.4 157.3M236 142Q156 195.1 74.9 143.9M236 142Q153 191.7 73.4 136.6M236 142Q147.6 179.9 76.8 114.7M236 142Q147.2 175.8 80.4 108.1M236 142Q147.4 171.8 85.1 102.1M236 142Q148.3 168 90.7 96.9M236 142Q154.4 158.7 112 87.1M236 142Q160.7 155.2 127.9 86.2M236 142Q172.1 155.1 150.2 93.6M236 142Q184.6 161.8 166.3 109.8M236 142Q189 165.4 169.5 116.6M236 142Q193.4 169.5 171.6 123.8M236 142Q197.9 173.7 172.4 131.1M236 142Q205.2 181.7 170.1 145.8M236 142Q208.4 188.7 163 159M236 142Q208.1 191.9 157.8 164.6M236 142Q152.2 168.2 97.6 99.4M236 142Q154 165 104.5 95.7M236 142Q156.4 162.2 112 93.2M236 142Q166.4 158.1 135.6 93.7M236 142Q170.4 158.4 143 96.5M236 142Q174.5 159.5 149.7 100.6M236 142Q178.8 161.5 155.4 105.7M236 142Q187.5 167.7 163.5 118.4M236 142Q191.9 171.7 165.4 125.6M236 142Q196.1 175.8 166 133M236 142Q199.6 179.8 165.1 140.3M236 142Q203.6 187.2 159 153.9M236 142Q203.6 190.5 154 159.7M236 142Q200 196.4 141.1 168.3M236 142Q188.2 201.8 117.8 171.8M236 142Q183.4 202.4 110 170.3M236 142Q178.4 202.2 102.6 167.5M236 142Q168.6 199.8 90.2 158.3M236 142Q164.2 197.6 85.5 152.3M236 142Q160.3 194.9 82.1 145.6M236 142Q156.9 191.6 80.2 138.4M236 142Q154.2 187.9 79.6 131M236 142Q152.2 184 80.5 123.7M236 142Q151.1 179.9 82.9 116.6M236 142Q150.7 175.8 86.6 110.1M236 142Q151.1 171.9 91.6 104.3M236 142Q198.4 184.5 155.9 147M236 142Q199.2 188 151.6 153.3M236 142Q198.5 191.3 146 158.5M236 142Q196.6 194.2 139.3 162.5M236 142Q193.5 196.5 131.9 165.1M236 142Q185 199.3 116.1 165.6M236 142Q175.1 198.9 101.5 159.9M236 142Q165.8 195.2 90.9 149M236 142Q158.7 188.9 86.1 135M236 142Q154.8 181.1 88.2 120.4M236 142Q154.6 173.1 96.6 108M236 142Q155.8 169.5 102.8 103.3M236 142Q157.8 166.5 109.9 100M236 142Q160.5 164.1 117.6 98.2M236 142Q163.8 162.5 125.6 97.9M236 142Q167.5 161.9 133.4 99.3M236 142Q175.9 163.5 147.2 106.4M236 142Q180.3 165.8 152.6 111.9M236 142Q184.7 168.9 156.5 118.3M236 142Q159 183.1 93.2 125.7M236 142Q157.9 179 95.9 118.8M236 142Q161.3 168.6 113.9 105M236 142Q176.3 167.1 143.5 111.3M236 142Q185.2 172.8 151.9 123.7M236 142Q192.4 180.7 152.4 138.3M236 142Q194.7 188.1 145.1 151.2M236 142Q193.5 191.2 138.9 155.9M236 142Q190.9 193.8 131.7 159M236 142Q187.2 195.6 123.9 160.2M236 142Q172.9 195.3 102.1 152.7M236 142Q168.3 193.3 97 147M236 142Q164.3 190.5 93.7 140.3M236 142Q161.1 187 92.4 133M236 142Q173.9 192.7 106.9 148.7M236 142Q169.3 190.6 101.9 142.9M236 142Q161.7 175.8 106.2 115.9M236 142Q163.2 172.5 112.8 111.7M236 142Q182.7 174.3 145.4 124.4M236 142Q189.8 189.1 136.3 150.4M236 142Q183.4 193.2 121.2 154.2M236 142Q178.8 193.5 113.5 152.6M236 142Q180.6 190.4 120.3 148.2M236 142Q174.5 173 132.6 118.4M236 142Q168.8 179.4 114.6 125M236 142Q174.8 176.3 128.8 123.2M236 142Q182 182.4 133.1 136M236 142Q173.5 186.5 113.9 138.3M236 142Q176.6 184.3 121.7 136.3M236 142Q172.8 182 118.1 131M236 142Q174.3 179.4 123.9 127.7M236 142Q181.9 181.7 133.8 135M236 142Q186.3 181.8 140.9 137.2M236 142Q181.4 184.7 128.9 139.4M236 142Q182.3 184.1 131.4 138.8" fill="none" stroke="#e68cf8" stroke-width="0.6" stroke-opacity="0.150"/>
<path d="M224 96.8Q188.3 180.1 97.7 178.5M224 96.8Q173.7 177.8 79.2 164.6M224 96.8Q169.3 176 74.6 158.5M224 96.8Q158.7 167.8 67.1 137.6M224 96.8Q156.2 164.4 66.8 130.2M224 96.8Q154.3 160.9 67.7 122.8M224 96.8Q153 157.1 69.7 115.6M224 96.8Q152.3 149.6 76.8 102.4M224 96.8Q154 142.6 87.7 91.5M224 96.8Q155.6 139.4 94.2 87.3M224 96.8Q157.8 136.6 101.4 84M224 96.8Q160.5 134.2 108.9 81.6M224 96.8Q171.1 130.1 132.7 80.8M224 96.8Q175.4 129.9 140.5 82.7M224 96.8Q180.1 130.3 147.9 85.5M224 96.8Q190.8 132.8 161 93.9M224 96.8Q209.8 138.6 174.5 112.1M224 96.8Q221 141.9 178.5 126.4M224 96.8Q227.1 146.1 177.9 141.2M224 96.8Q228.2 148.9 175.9 148.4M224 96.8Q227.5 155.7 168.8 161.6M224 96.8Q225.8 159.3 163.8 167.4M224 96.8Q212.8 172.7 136.7 182.4M224 96.8Q208.3 175.2 128.8 183.7M224 96.8Q198.6 178.8 112.9 183.2M224 96.8Q218.6 163.7 151.7 169.4M224 96.8Q211.5 170 137.5 176M224 96.8Q207.2 172.6 129.7 177.6M224 96.8Q202.5 174.7 121.7 178M224 96.8Q197.5 176.2 113.8 177.3M224 96.8Q187.2 177.3 98.8 172.3M224 96.8Q177.3 175.9 86.3 163.2M224 96.8Q172.7 174.2 81.4 157.3M224 96.8Q168.6 172.1 77.5 150.8M224 96.8Q164.9 169.4 74.9 143.9M224 96.8Q159.4 163 73.3 129.2M224 96.8Q157.6 159.4 74.4 121.8M224 96.8Q157.4 144.8 90.7 96.9M224 96.8Q161.3 138.9 104.3 89.3M224 96.8Q167.4 134.9 119.9 86M224 96.8Q180.3 133.4 143.2 90M224 96.8Q185.4 134.2 150.2 93.6M224 96.8Q203.3 139.3 166.3 109.8M224 96.8Q209.3 141.2 169.5 116.6M224 96.8Q218.9 145 172.4 131.1M224 96.8Q223.6 153.2 167.1 152.6M224 96.8Q222.8 156.6 163 159M224 96.8Q169.9 138 119.9 92M224 96.8Q173.9 136.9 127.8 92.2M224 96.8Q178.4 136.5 135.6 93.7M224 96.8Q194.7 139.3 155.4 105.7M224 96.8Q200.6 141.1 160.1 111.7M224 96.8Q206.4 143.1 163.5 118.4M224 96.8Q211.4 145.1 165.4 125.6M224 96.8Q215.2 147.3 166 133M224 96.8Q218.5 156.2 159 153.9M224 96.8Q214.8 163 148 164.6M224 96.8Q211.6 166.2 141.1 168.3M224 96.8Q207.7 169 133.6 170.8M224 96.8Q182.9 174.2 95.9 163.4M224 96.8Q166.1 166.1 80.2 138.4M224 96.8Q163.4 162.8 79.6 131M224 96.8Q161.5 159.3 80.5 123.7M224 96.8Q160.5 148.3 91.6 104.3M224 96.8Q214.1 154.7 155.9 147M224 96.8Q213.5 158 151.6 153.3M224 96.8Q208.7 164.5 139.3 162.5M224 96.8Q200.4 169.5 124 166.2M224 96.8Q195.4 171 116.1 165.6M224 96.8Q190.2 171.7 108.4 163.5M224 96.8Q185 171.6 101.5 159.9M224 96.8Q180 170.7 95.5 155M224 96.8Q168.3 163.5 86.1 135M224 96.8Q165.9 160.2 86.3 127.6M224 96.8Q163.9 152.9 91.7 113.7M224 96.8Q164.4 149.4 96.6 108M224 96.8Q165.9 146.2 102.8 103.3M224 96.8Q168.2 143.5 109.9 100M224 96.8Q171.4 141.4 117.6 98.2M224 96.8Q175.3 140.1 125.6 97.9M224 96.8Q179.8 139.6 133.4 99.3M224 96.8Q190.6 140.9 147.2 106.4M224 96.8Q196.4 142.5 152.6 111.9M224 96.8Q207 146.5 158.9 125.4M224 96.8Q168 154.6 95.9 118.8M224 96.8Q168.3 151.1 100.5 112.8M224 96.8Q172.3 145.4 113.9 105M224 96.8Q175.8 143.6 121.7 103.8M224 96.8Q190.9 143.7 143.5 111.3M224 96.8Q196.6 145.3 148.6 117M224 96.8Q205.9 149.7 153.2 131M224 96.8Q208.5 152.5 152.4 138.3M224 96.8Q208.6 158.9 145.1 151.2M224 96.8Q202.8 165 131.7 159M224 96.8Q193.5 168.6 116 159.5M224 96.8Q188.2 169 108.6 156.9M224 96.8Q178.3 167 97 147M224 96.8Q174.3 164.6 93.7 140.3M224 96.8Q171.1 161.6 92.4 133M224 96.8Q184.5 165.9 106.9 148.7M224 96.8Q173.2 158.6 99.1 128.7M224 96.8Q172.5 151.6 106.2 115.9M224 96.8Q174.4 148.7 112.8 111.7M224 96.8Q202.1 151.3 146.8 131.6M224 96.8Q202.8 160.7 136.3 150.4M224 96.8Q199.4 163.4 129.1 153.5M224 96.8Q189.8 166.2 113.5 152.6M224 96.8Q200 155.2 139.2 137.8M224 96.8Q196.8 161.3 128.1 147.6M224 96.8Q192.3 163.1 120.3 148.2M224 96.8Q178.4 159.7 105.3 133.4M224 96.8Q176.4 156.3 106.4 126.2M224 96.8Q176.5 152.9 110.7 120.1M224 96.8Q178.7 150.1 117.5 116.4M224 96.8Q182.8 148.6 125.3 115.8M224 96.8Q197.7 152.2 140.3 130.6M224 96.8Q181.3 157.8 111.6 131.5M224 96.8Q180.5 154.4 114.6 125M224 96.8Q183 151.8 121.4 121.7M224 96.8Q194.4 158.8 127.9 141.2M224 96.8Q191 155.6 127.5 133M224 96.8Q199.9 156.9 137.2 141M224 96.8Q197.3 155.9 135.2 137.3M224 96.8Q200.1 155 139.7 137.4M224 96.8Q195.5 157.2 131.4 138.8" fill="none" stroke="#e68cf8" stroke-width="0.6" stroke-opacity="0.150"/>
<path d="M208.5 55.6Q192.4 152.4 97.7 178.5M208.5 55.6Q187.5 152.5 90.9 174.7M208.5 55.6Q182.7 152 84.6 170.1M208.5 55.6Q167 144.8 68.5 144.9M208.5 55.6Q161.9 138.9 66.8 130.2M208.5 55.6Q159.2 132.1 69.7 115.6M208.5 55.6Q158.8 128.6 72.7 108.7M208.5 55.6Q159.9 121.7 81.8 96.6M208.5 55.6Q161.4 118.5 87.7 91.5M208.5 55.6Q163.6 115.6 94.2 87.3M208.5 55.6Q166.3 112.9 101.4 84M208.5 55.6Q178.2 107.3 124.8 80M208.5 55.6Q188.9 105.4 140.5 82.7M208.5 55.6Q195 104.8 147.9 85.5M208.5 55.6Q208 103.7 161 93.9M208.5 55.6Q214.2 103.2 166.4 99.4M208.5 55.6Q224 103.4 174.5 112.1M208.5 55.6Q229.9 106.4 178.5 126.4M208.5 55.6Q232 120.2 172.9 155.3M208.5 55.6Q228.9 128.6 163.8 167.4M208.5 55.6Q223.4 136.7 151.4 176.7M208.5 55.6Q219.9 140.3 144.2 180M208.5 55.6Q202.2 150.5 112.9 183.2M208.5 55.6Q219 137.3 144.9 173.2M208.5 55.6Q196.5 149 106.1 175.4M208.5 55.6Q186.7 149.5 92.2 168.2M208.5 55.6Q182 148.7 86.3 163.2M208.5 55.6Q177.7 147.4 81.4 157.3M208.5 55.6Q173.8 145.5 77.5 150.8M208.5 55.6Q165.3 137.3 73.3 129.2M208.5 55.6Q163.8 133.9 74.4 121.8M208.5 55.6Q163 130.5 76.8 114.7M208.5 55.6Q162.9 127 80.4 108.1M208.5 55.6Q163.6 123.6 85.1 102.1M208.5 55.6Q165.1 120.3 90.7 96.9M208.5 55.6Q173.6 112.4 112 87.1M208.5 55.6Q177.8 110.6 119.9 86M208.5 55.6Q188.1 108.1 135.7 87.5M208.5 55.6Q194.1 107.4 143.2 90M208.5 55.6Q228.6 117.4 170.1 145.8M208.5 55.6Q228.1 121.3 167.1 152.6M208.5 55.6Q226.9 125.4 163 159M208.5 55.6Q176 114.9 112 93.2M208.5 55.6Q180.3 113 119.9 92M208.5 55.6Q185.2 111.5 127.8 92.2M208.5 55.6Q202.8 109.2 149.7 100.6M208.5 55.6Q208.7 109 155.4 105.7M208.5 55.6Q213.9 109.2 160.1 111.7M208.5 55.6Q218.2 110.1 163.5 118.4M208.5 55.6Q224.4 117.3 165.1 140.3M208.5 55.6Q224.4 120.9 162.7 147.4M208.5 55.6Q223.5 124.8 159 153.9M208.5 55.6Q221.7 128.8 154 159.7M208.5 55.6Q215.7 136.4 141.1 168.3M208.5 55.6Q197.7 146 110 170.3M208.5 55.6Q187.8 146.6 95.9 163.4M208.5 55.6Q183.1 145.8 90.2 158.3M208.5 55.6Q171.9 139.8 80.2 138.4M208.5 55.6Q169.5 136.8 79.6 131M208.5 55.6Q167.9 133.5 80.5 123.7M208.5 55.6Q218.9 127.1 151.6 153.3M208.5 55.6Q213.5 134.7 139.3 162.5M208.5 55.6Q200.2 142.5 116.1 165.6M208.5 55.6Q195.2 143.6 108.4 163.5M208.5 55.6Q190.2 143.8 101.5 159.9M208.5 55.6Q181.1 141.9 90.9 149M208.5 55.6Q177.4 139.8 87.7 142.2M208.5 55.6Q171.3 130.7 88.2 120.4M208.5 55.6Q171.3 127.3 91.7 113.7M208.5 55.6Q177.4 118.1 109.9 100M208.5 55.6Q181.3 115.9 117.6 98.2M208.5 55.6Q197.5 112.1 140.7 102.2M208.5 55.6Q208.9 111.9 152.6 111.9M208.5 55.6Q213.5 112.6 156.5 118.3M208.5 55.6Q219.3 116.5 159.6 132.7M208.5 55.6Q220.3 119.6 158.6 140.1M208.5 55.6Q175.4 128.5 95.9 118.8M208.5 55.6Q176.2 125.1 100.5 112.8M208.5 55.6Q178.3 122 106.7 108.1M208.5 55.6Q196.8 114.8 137 107.1M208.5 55.6Q202.6 114.5 143.5 111.3M208.5 55.6Q211.9 116.1 151.9 123.7M208.5 55.6Q214.7 118.2 153.2 131M208.5 55.6Q216 121.1 152.4 138.3M208.5 55.6Q211.8 132.1 138.9 155.9M208.5 55.6Q198.8 140 116 159.5M208.5 55.6Q193.7 140.9 108.6 156.9M208.5 55.6Q180.5 137.7 93.7 140.3M208.5 55.6Q177.6 135 92.4 133M208.5 55.6Q186 136.9 101.9 142.9M208.5 55.6Q182.5 134.8 99.2 136M208.5 55.6Q187.3 119.8 120.4 109.8M208.5 55.6Q192.4 118.1 128.3 110.3M208.5 55.6Q207.9 118.4 145.4 124.4M208.5 55.6Q210.8 120.5 146.8 131.6M208.5 55.6Q211.9 123.5 145.6 138.9M208.5 55.6Q208.9 130.8 136.3 150.4M208.5 55.6Q206.4 128.7 134.9 143.9M208.5 55.6Q203.2 132.1 128.1 147.6M208.5 55.6Q198.6 134.4 120.3 148.2M208.5 55.6Q188.8 134.5 107.6 140.3M208.5 55.6Q184.7 125.9 110.7 120.1M208.5 55.6Q192.3 120.9 125.3 115.8M208.5 55.6Q202.9 120.4 138 123.7M208.5 55.6Q191.8 124 121.4 121.7M208.5 55.6Q196.3 129.5 121.7 136.3M208.5 55.6Q192.6 128.3 118.1 131M208.5 55.6Q203.5 125.7 133.8 135M208.5 55.6Q208.5 124.4 140.9 137.2M208.5 55.6Q204.7 123.2 137.5 131.2M208.5 55.6Q208.1 121.9 142.5 131.8M208.5 55.6Q204.9 126.2 135.2 137.3M208.5 55.6Q207.8 124.8 139.7 137.4M208.5 55.6Q199.6 125.1 129.7 130.5M208.5 55.6Q202.9 127.8 131.4 138.8" fill="none" stroke="#c8bccc" stroke-width="0.6" stroke-opacity="0.090"/>
<path d="M173.5 32Q182.5 129.5 97.7 178.5M173.5 32Q169.1 128.7 79.2 164.6M173.5 32Q165.1 127.3 74.6 158.5M173.5 32Q153.9 117.7 66.8 130.2M173.5 32Q152.4 114.5 67.7 122.8M173.5 32Q151.7 111.2 69.7 115.6M173.5 32Q152.2 104.3 76.8 102.4M173.5 32Q161.6 91.5 101.4 84M173.5 32Q165.7 88.7 108.9 81.6M173.5 32Q170.6 86 116.8 80.3M173.5 32Q194 74.7 147.9 85.5M173.5 32Q199.3 72.2 154.7 89.3M173.5 32Q220.2 89.3 175.9 148.4M173.5 32Q216.9 103.2 163.8 167.4M173.5 32Q211.8 111.9 151.4 176.7M173.5 32Q204.8 119.4 136.7 182.4M173.5 32Q196.4 125.1 120.8 184M173.5 32Q191.8 127.1 112.9 183.2M173.5 32Q187.2 128.6 105.1 181.3M173.5 32Q210.9 108.3 151.7 169.4M173.5 32Q207.8 112.5 144.9 173.2M173.5 32Q204.3 116.2 137.5 176M173.5 32Q168.8 125.1 81.4 157.3M173.5 32Q165.1 123.4 77.5 150.8M173.5 32Q162 121.2 74.9 143.9M173.5 32Q159.4 118.7 73.4 136.6M173.5 32Q157.5 115.7 73.3 129.2M173.5 32Q156.1 105.7 80.4 108.1M173.5 32Q174.7 86.8 119.9 86M173.5 32Q186.1 81.2 135.7 87.5M173.5 32Q197.3 76.2 150.2 93.6M173.5 32Q209.4 74.6 166.3 109.8M173.5 32Q216.9 90.2 170.1 145.8M173.5 32Q164.3 98 97.6 99.4M173.5 32Q167.5 94.8 104.5 95.7M173.5 32Q171.7 91.7 112 93.2M173.5 32Q182 85.9 127.8 92.2M173.5 32Q187.7 83.2 135.6 93.7M173.5 32Q202.7 78.2 155.4 105.7M173.5 32Q206.4 78.5 160.1 111.7M173.5 32Q213.3 93.9 162.7 147.4M173.5 32Q212.3 98.5 159 153.9M173.5 32Q210.6 103 154 159.7M173.5 32Q205 111.5 141.1 168.3M173.5 32Q201.3 115.1 133.6 170.8M173.5 32Q170.2 121.9 85.5 152.3M173.5 32Q166.7 120 82.1 145.6M173.5 32Q163.8 117.7 80.2 138.4M173.5 32Q161.7 114.9 79.6 131M173.5 32Q160.4 111.7 80.5 123.7M173.5 32Q160 108.4 82.9 116.6M173.5 32Q160.5 104.9 86.6 110.1M173.5 32Q206.1 105.3 146 158.5M173.5 32Q199.4 113.2 131.9 165.1M173.5 32Q195.1 116.2 124 166.2M173.5 32Q190.5 118.5 116.1 165.6M173.5 32Q185.8 119.9 108.4 163.5M173.5 32Q176.6 120.2 95.5 155M173.5 32Q169.2 117.2 87.7 142.2M173.5 32Q164.9 111.7 86.3 127.6M173.5 32Q164.6 105 91.7 113.7M173.5 32Q168.7 98 102.8 103.3M173.5 32Q187.6 86 133.4 99.3M173.5 32Q193 83.8 140.7 102.2M173.5 32Q197.9 82.5 147.2 106.4M173.5 32Q205.4 83.1 156.5 118.3M173.5 32Q168.6 109.1 93.2 125.7M173.5 32Q168.6 105.7 95.9 118.8M173.5 32Q169.9 102.1 100.5 112.8M173.5 32Q176.3 95.2 113.9 105M173.5 32Q191.7 87.2 137 107.1M173.5 32Q196.6 86.1 143.5 111.3M173.5 32Q200.6 86.1 148.6 117M173.5 32Q205.6 90.2 153.2 131M173.5 32Q206 98 149.7 145.2M173.5 32Q201.8 106.7 138.9 155.9M173.5 32Q194 113.6 123.9 160.2M173.5 32Q189.4 115.9 116 159.5M173.5 32Q180 117.3 102.1 152.7M173.5 32Q175.8 116.5 97 147M173.5 32Q170 112.2 92.4 133M173.5 32Q182 114.2 106.9 148.7M173.5 32Q174.7 111.4 99.2 136M173.5 32Q173 108.6 99.1 128.7M173.5 32Q172.8 105.2 101.5 121.7M173.5 32Q174.3 101.5 106.2 115.9M173.5 32Q177.4 97.9 112.8 111.7M173.5 32Q186.9 91.9 128.3 110.3M173.5 32Q196.6 89.6 141.5 118M173.5 32Q202.7 96.7 145.6 138.9M173.5 32Q201.7 100.9 142 145.4M173.5 32Q199.4 105.2 136.3 150.4M173.5 32Q195.8 109 129.1 153.5M173.5 32Q191.4 112 121.2 154.2M173.5 32Q198.9 98.7 139.2 137.8M173.5 32Q197.4 102.9 134.9 143.9M173.5 32Q189.8 109.7 120.3 148.2M173.5 32Q185 111 113 145.6M173.5 32Q180.7 110.6 107.6 140.3M173.5 32Q177.8 108.6 105.3 133.4M173.5 32Q176.9 105.4 106.4 126.2M173.5 32Q178.1 101.7 110.7 120.1M173.5 32Q181.5 98.1 117.5 116.4M173.5 32Q195.6 93.3 138 123.7M173.5 32Q198.3 95.2 140.3 130.6M173.5 32Q195 100.2 133.1 136M173.5 32Q184.1 107.8 113.9 138.3M173.5 32Q191.1 101 127.5 133M173.5 32Q185.1 103.5 118.1 131M173.5 32Q187.9 100.2 123.9 127.7M173.5 32Q195.2 99.5 133.8 135M173.5 32Q196.7 96.6 137.5 131.2M173.5 32Q199.7 94.9 142.5 131.8M173.5 32Q193.2 103.1 128.9 139.4M173.5 32Q201.3 96.2 144 136.4M173.5 32Q196.4 100 135.2 137.3M173.5 32Q196.6 96.2 137.5 130.5M173.5 32Q192 99.2 129.7 130.5" fill="none" stroke="#d49ee6" stroke-width="0.6" stroke-opacity="0.112"/>
<ellipse cx="122.8" cy="132" rx="56" ry="52" fill="#e880f2" fill-opacity="0.09"/>
<circle cx="97.7" cy="178.5" r="2.3" fill="#c6c8c6"/>
<circle cx="90.9" cy="174.7" r="2.3" fill="#c6c8c6"/>
<circle cx="84.6" cy="170.1" r="2.3" fill="#c6c8c6"/>
<circle cx="79.2" cy="164.6" r="2.3" fill="#c6c8c6"/>
<circle cx="74.6" cy="158.5" r="2.35" fill="#e072f4"/>
<circle cx="71.1" cy="151.9" r="2.35" fill="#e072f4"/>
<circle cx="68.5" cy="144.9" r="2.35" fill="#e072f4"/>
<circle cx="67.1" cy="137.6" r="2.35" fill="#e072f4"/>
<circle cx="66.8" cy="130.2" r="2.35" fill="#e072f4"/>
<circle cx="67.7" cy="122.8" r="2.35" fill="#e072f4"/>
<circle cx="69.7" cy="115.6" r="2.35" fill="#e072f4"/>
<circle cx="72.7" cy="108.7" r="2.35" fill="#e072f4"/>
<circle cx="76.8" cy="102.4" r="2.35" fill="#e072f4"/>
<circle cx="81.8" cy="96.6" r="2.35" fill="#e072f4"/>
<circle cx="87.7" cy="91.5" r="2.35" fill="#e072f4"/>
<circle cx="94.2" cy="87.3" r="2.35" fill="#e072f4"/>
<circle cx="101.4" cy="84" r="2.35" fill="#e072f4"/>
<circle cx="108.9" cy="81.6" r="2.35" fill="#e072f4"/>
<circle cx="116.8" cy="80.3" r="2.35" fill="#e072f4"/>
<circle cx="124.8" cy="80" r="2.35" fill="#e072f4"/>
<circle cx="132.7" cy="80.8" r="2.35" fill="#e072f4"/>
<circle cx="140.5" cy="82.7" r="2.35" fill="#e072f4"/>
<circle cx="147.9" cy="85.5" r="2.35" fill="#e072f4"/>
<circle cx="154.7" cy="89.3" r="2.35" fill="#e072f4"/>
<circle cx="161" cy="93.9" r="2.35" fill="#e072f4"/>
<circle cx="166.4" cy="99.4" r="2.35" fill="#e072f4"/>
<circle cx="171" cy="105.5" r="2.35" fill="#e072f4"/>
<circle cx="174.5" cy="112.1" r="2.35" fill="#e072f4"/>
<circle cx="177.1" cy="119.1" r="2.35" fill="#e072f4"/>
<circle cx="178.5" cy="126.4" r="2.35" fill="#e072f4"/>
<circle cx="178.8" cy="133.8" r="2.3" fill="#c6c8c6"/>
<circle cx="177.9" cy="141.2" r="2.3" fill="#c6c8c6"/>
<circle cx="175.9" cy="148.4" r="2.3" fill="#c6c8c6"/>
<circle cx="172.9" cy="155.3" r="2.3" fill="#c6c8c6"/>
<circle cx="168.8" cy="161.6" r="2.3" fill="#c6c8c6"/>
<circle cx="163.8" cy="167.4" r="2.3" fill="#c6c8c6"/>
<circle cx="157.9" cy="172.5" r="2.3" fill="#c6c8c6"/>
<circle cx="151.4" cy="176.7" r="2.3" fill="#c6c8c6"/>
<circle cx="144.2" cy="180" r="2.3" fill="#c6c8c6"/>
<circle cx="136.7" cy="182.4" r="2.3" fill="#c6c8c6"/>
<circle cx="128.8" cy="183.7" r="2.3" fill="#c6c8c6"/>
<circle cx="120.8" cy="184" r="2.3" fill="#c6c8c6"/>
<circle cx="112.9" cy="183.2" r="2.3" fill="#c6c8c6"/>
<circle cx="105.1" cy="181.3" r="2.3" fill="#c6c8c6"/>
<circle cx="151.7" cy="169.4" r="2.3" fill="#c6c8c6"/>
<circle cx="144.9" cy="173.2" r="2.3" fill="#c6c8c6"/>
<circle cx="137.5" cy="176" r="2.3" fill="#c6c8c6"/>
<circle cx="129.7" cy="177.6" r="2.3" fill="#c6c8c6"/>
<circle cx="121.7" cy="178" r="2.3" fill="#c6c8c6"/>
<circle cx="113.8" cy="177.3" r="2.3" fill="#c6c8c6"/>
<circle cx="106.1" cy="175.4" r="2.3" fill="#c6c8c6"/>
<circle cx="98.8" cy="172.3" r="2.3" fill="#c6c8c6"/>
<circle cx="92.2" cy="168.2" r="2.3" fill="#c6c8c6"/>
<circle cx="86.3" cy="163.2" r="2.3" fill="#c6c8c6"/>
<circle cx="81.4" cy="157.3" r="2.35" fill="#e072f4"/>
<circle cx="77.5" cy="150.8" r="2.35" fill="#e072f4"/>
<circle cx="74.9" cy="143.9" r="2.35" fill="#e072f4"/>
<circle cx="73.4" cy="136.6" r="2.35" fill="#e072f4"/>
<circle cx="73.3" cy="129.2" r="2.35" fill="#e072f4"/>
<circle cx="74.4" cy="121.8" r="2.35" fill="#e072f4"/>
<circle cx="76.8" cy="114.7" r="2.35" fill="#e072f4"/>
<circle cx="80.4" cy="108.1" r="2.35" fill="#e072f4"/>
<circle cx="85.1" cy="102.1" r="2.35" fill="#e072f4"/>
<circle cx="90.7" cy="96.9" r="2.35" fill="#e072f4"/>
<circle cx="97.2" cy="92.6" r="2.35" fill="#e072f4"/>
<circle cx="104.3" cy="89.3" r="2.35" fill="#e072f4"/>
<circle cx="112" cy="87.1" r="2.35" fill="#e072f4"/>
<circle cx="119.9" cy="86" r="2.35" fill="#e072f4"/>
<circle cx="127.9" cy="86.2" r="2.35" fill="#e072f4"/>
<circle cx="135.7" cy="87.5" r="2.35" fill="#e072f4"/>
<circle cx="143.2" cy="90" r="2.35" fill="#e072f4"/>
<circle cx="150.2" cy="93.6" r="2.35" fill="#e072f4"/>
<circle cx="156.5" cy="98.2" r="2.35" fill="#e072f4"/>
<circle cx="161.9" cy="103.6" r="2.35" fill="#e072f4"/>
<circle cx="166.3" cy="109.8" r="2.35" fill="#e072f4"/>
<circle cx="169.5" cy="116.6" r="2.35" fill="#e072f4"/>
<circle cx="171.6" cy="123.8" r="2.3" fill="#c6c8c6"/>
<circle cx="172.4" cy="131.1" r="2.3" fill="#c6c8c6"/>
<circle cx="171.9" cy="138.5" r="2.3" fill="#c6c8c6"/>
<circle cx="170.1" cy="145.8" r="2.3" fill="#c6c8c6"/>
<circle cx="167.1" cy="152.6" r="2.3" fill="#c6c8c6"/>
<circle cx="163" cy="159" r="2.3" fill="#c6c8c6"/>
<circle cx="157.8" cy="164.6" r="2.3" fill="#c6c8c6"/>
<circle cx="97.6" cy="99.4" r="2.35" fill="#e072f4"/>
<circle cx="104.5" cy="95.7" r="2.35" fill="#e072f4"/>
<circle cx="112" cy="93.2" r="2.35" fill="#e072f4"/>
<circle cx="119.9" cy="92" r="2.35" fill="#e072f4"/>
<circle cx="127.8" cy="92.2" r="2.35" fill="#e072f4"/>
<circle cx="135.6" cy="93.7" r="2.35" fill="#e072f4"/>
<circle cx="143" cy="96.5" r="2.35" fill="#e072f4"/>
<circle cx="149.7" cy="100.6" r="2.35" fill="#e072f4"/>
<circle cx="155.4" cy="105.7" r="2.35" fill="#e072f4"/>
<circle cx="160.1" cy="111.7" r="2.35" fill="#e072f4"/>
<circle cx="163.5" cy="118.4" r="2.35" fill="#e072f4"/>
<circle cx="165.4" cy="125.6" r="2.3" fill="#c6c8c6"/>
<circle cx="166" cy="133" r="2.3" fill="#c6c8c6"/>
<circle cx="165.1" cy="140.3" r="2.3" fill="#c6c8c6"/>
<circle cx="162.7" cy="147.4" r="2.3" fill="#c6c8c6"/>
<circle cx="159" cy="153.9" r="2.3" fill="#c6c8c6"/>
<circle cx="154" cy="159.7" r="2.3" fill="#c6c8c6"/>
<circle cx="148" cy="164.6" r="2.3" fill="#c6c8c6"/>
<circle cx="141.1" cy="168.3" r="2.3" fill="#c6c8c6"/>
<circle cx="133.6" cy="170.8" r="2.3" fill="#c6c8c6"/>
<circle cx="125.7" cy="172" r="2.3" fill="#c6c8c6"/>
<circle cx="117.8" cy="171.8" r="2.3" fill="#c6c8c6"/>
<circle cx="110" cy="170.3" r="2.3" fill="#c6c8c6"/>
<circle cx="102.6" cy="167.5" r="2.3" fill="#c6c8c6"/>
<circle cx="95.9" cy="163.4" r="2.3" fill="#c6c8c6"/>
<circle cx="90.2" cy="158.3" r="2.35" fill="#e072f4"/>
<circle cx="85.5" cy="152.3" r="2.35" fill="#e072f4"/>
<circle cx="82.1" cy="145.6" r="2.35" fill="#e072f4"/>
<circle cx="80.2" cy="138.4" r="2.35" fill="#e072f4"/>
<circle cx="79.6" cy="131" r="2.35" fill="#e072f4"/>
<circle cx="80.5" cy="123.7" r="2.35" fill="#e072f4"/>
<circle cx="82.9" cy="116.6" r="2.35" fill="#e072f4"/>
<circle cx="86.6" cy="110.1" r="2.35" fill="#e072f4"/>
<circle cx="91.6" cy="104.3" r="2.35" fill="#e072f4"/>
<circle cx="155.9" cy="147" r="2.3" fill="#c6c8c6"/>
<circle cx="151.6" cy="153.3" r="2.3" fill="#c6c8c6"/>
<circle cx="146" cy="158.5" r="2.3" fill="#c6c8c6"/>
<circle cx="139.3" cy="162.5" r="2.3" fill="#c6c8c6"/>
<circle cx="131.9" cy="165.1" r="2.3" fill="#c6c8c6"/>
<circle cx="124" cy="166.2" r="2.3" fill="#c6c8c6"/>
<circle cx="116.1" cy="165.6" r="2.3" fill="#c6c8c6"/>
<circle cx="108.4" cy="163.5" r="2.3" fill="#c6c8c6"/>
<circle cx="101.5" cy="159.9" r="2.3" fill="#c6c8c6"/>
<circle cx="95.5" cy="155" r="2.35" fill="#e072f4"/>
<circle cx="90.9" cy="149" r="2.35" fill="#e072f4"/>
<circle cx="87.7" cy="142.2" r="2.35" fill="#e072f4"/>
<circle cx="86.1" cy="135" r="2.35" fill="#e072f4"/>
<circle cx="86.3" cy="127.6" r="2.35" fill="#e072f4"/>
<circle cx="88.2" cy="120.4" r="2.35" fill="#e072f4"/>
<circle cx="91.7" cy="113.7" r="2.35" fill="#e072f4"/>
<circle cx="96.6" cy="108" r="2.35" fill="#e072f4"/>
<circle cx="102.8" cy="103.3" r="2.35" fill="#e072f4"/>
<circle cx="109.9" cy="100" r="2.35" fill="#e072f4"/>
<circle cx="117.6" cy="98.2" r="2.35" fill="#e072f4"/>
<circle cx="125.6" cy="97.9" r="2.35" fill="#e072f4"/>
<circle cx="133.4" cy="99.3" r="2.35" fill="#e072f4"/>
<circle cx="140.7" cy="102.2" r="2.35" fill="#e072f4"/>
<circle cx="147.2" cy="106.4" r="2.35" fill="#e072f4"/>
<circle cx="152.6" cy="111.9" r="2.35" fill="#e072f4"/>
<circle cx="156.5" cy="118.3" r="2.35" fill="#e072f4"/>
<circle cx="158.9" cy="125.4" r="2.3" fill="#c6c8c6"/>
<circle cx="159.6" cy="132.7" r="2.3" fill="#c6c8c6"/>
<circle cx="158.6" cy="140.1" r="2.3" fill="#c6c8c6"/>
<circle cx="93.2" cy="125.7" r="2.35" fill="#e072f4"/>
<circle cx="95.9" cy="118.8" r="2.35" fill="#e072f4"/>
<circle cx="100.5" cy="112.8" r="2.35" fill="#e072f4"/>
<circle cx="106.7" cy="108.1" r="2.35" fill="#e072f4"/>
<circle cx="113.9" cy="105" r="2.35" fill="#e072f4"/>
<circle cx="121.7" cy="103.8" r="2.35" fill="#e072f4"/>
<circle cx="129.6" cy="104.5" r="2.35" fill="#e072f4"/>
<circle cx="137" cy="107.1" r="2.35" fill="#e072f4"/>
<circle cx="143.5" cy="111.3" r="2.35" fill="#e072f4"/>
<circle cx="148.6" cy="117" r="2.35" fill="#e072f4"/>
<circle cx="151.9" cy="123.7" r="2.3" fill="#c6c8c6"/>
<circle cx="153.2" cy="131" r="2.3" fill="#c6c8c6"/>
<circle cx="152.4" cy="138.3" r="2.3" fill="#c6c8c6"/>
<circle cx="149.7" cy="145.2" r="2.3" fill="#c6c8c6"/>
<circle cx="145.1" cy="151.2" r="2.3" fill="#c6c8c6"/>
<circle cx="138.9" cy="155.9" r="2.3" fill="#c6c8c6"/>
<circle cx="131.7" cy="159" r="2.3" fill="#c6c8c6"/>
<circle cx="123.9" cy="160.2" r="2.3" fill="#c6c8c6"/>
<circle cx="116" cy="159.5" r="2.3" fill="#c6c8c6"/>
<circle cx="108.6" cy="156.9" r="2.3" fill="#c6c8c6"/>
<circle cx="102.1" cy="152.7" r="2.3" fill="#c6c8c6"/>
<circle cx="97" cy="147" r="2.35" fill="#e072f4"/>
<circle cx="93.7" cy="140.3" r="2.35" fill="#e072f4"/>
<circle cx="92.4" cy="133" r="2.35" fill="#e072f4"/>
<circle cx="106.9" cy="148.7" r="2.3" fill="#c6c8c6"/>
<circle cx="101.9" cy="142.9" r="2.35" fill="#e072f4"/>
<circle cx="99.2" cy="136" r="2.35" fill="#e072f4"/>
<circle cx="99.1" cy="128.7" r="2.35" fill="#e072f4"/>
<circle cx="101.5" cy="121.7" r="2.35" fill="#e072f4"/>
<circle cx="106.2" cy="115.9" r="2.35" fill="#e072f4"/>
<circle cx="112.8" cy="111.7" r="2.35" fill="#e072f4"/>
<circle cx="120.4" cy="109.8" r="2.35" fill="#e072f4"/>
<circle cx="128.3" cy="110.3" r="2.35" fill="#e072f4"/>
<circle cx="135.6" cy="113.1" r="2.35" fill="#e072f4"/>
<circle cx="141.5" cy="118" r="2.35" fill="#e072f4"/>
<circle cx="145.4" cy="124.4" r="2.3" fill="#c6c8c6"/>
<circle cx="146.8" cy="131.6" r="2.3" fill="#c6c8c6"/>
<circle cx="145.6" cy="138.9" r="2.3" fill="#c6c8c6"/>
<circle cx="142" cy="145.4" r="2.3" fill="#c6c8c6"/>
<circle cx="136.3" cy="150.4" r="2.3" fill="#c6c8c6"/>
<circle cx="129.1" cy="153.5" r="2.3" fill="#c6c8c6"/>
<circle cx="121.2" cy="154.2" r="2.3" fill="#c6c8c6"/>
<circle cx="113.5" cy="152.6" r="2.3" fill="#c6c8c6"/>
<circle cx="139.2" cy="137.8" r="2.3" fill="#c6c8c6"/>
<circle cx="134.9" cy="143.9" r="2.3" fill="#c6c8c6"/>
<circle cx="128.1" cy="147.6" r="2.3" fill="#c6c8c6"/>
<circle cx="120.3" cy="148.2" r="2.3" fill="#c6c8c6"/>
<circle cx="113" cy="145.6" r="2.3" fill="#c6c8c6"/>
<circle cx="107.6" cy="140.3" r="2.35" fill="#e072f4"/>
<circle cx="105.3" cy="133.4" r="2.35" fill="#e072f4"/>
<circle cx="106.4" cy="126.2" r="2.35" fill="#e072f4"/>
<circle cx="110.7" cy="120.1" r="2.35" fill="#e072f4"/>
<circle cx="117.5" cy="116.4" r="2.35" fill="#e072f4"/>
<circle cx="125.3" cy="115.8" r="2.35" fill="#e072f4"/>
<circle cx="132.6" cy="118.4" r="2.35" fill="#e072f4"/>
<circle cx="138" cy="123.7" r="2.3" fill="#c6c8c6"/>
<circle cx="140.3" cy="130.6" r="2.3" fill="#c6c8c6"/>
<circle cx="111.6" cy="131.5" r="2.35" fill="#e072f4"/>
<circle cx="114.6" cy="125" r="2.35" fill="#e072f4"/>
<circle cx="121.4" cy="121.7" r="2.35" fill="#e072f4"/>
<circle cx="128.8" cy="123.2" r="2.3" fill="#c6c8c6"/>
<circle cx="133.5" cy="128.9" r="2.3" fill="#c6c8c6"/>
<circle cx="133.1" cy="136" r="2.3" fill="#c6c8c6"/>
<circle cx="127.9" cy="141.2" r="2.3" fill="#c6c8c6"/>
<circle cx="120.3" cy="142.1" r="2.3" fill="#c6c8c6"/>
<circle cx="113.9" cy="138.3" r="2.35" fill="#e072f4"/>
<circle cx="127.5" cy="133" r="2.3" fill="#c6c8c6"/>
<circle cx="121.7" cy="136.3" r="2.3" fill="#c6c8c6"/>
<circle cx="118.1" cy="131" r="2.3" fill="#c6c8c6"/>
<circle cx="123.9" cy="127.7" r="2.3" fill="#c6c8c6"/>
<circle cx="133.8" cy="135" r="2.3" fill="#c6c8c6"/>
<circle cx="140.9" cy="137.2" r="2.3" fill="#c6c8c6"/>
<circle cx="137.5" cy="131.2" r="2.3" fill="#c6c8c6"/>
<circle cx="137.2" cy="141" r="2.3" fill="#c6c8c6"/>
<circle cx="142.5" cy="131.8" r="2.3" fill="#c6c8c6"/>
<circle cx="128.9" cy="139.4" r="2.3" fill="#c6c8c6"/>
<circle cx="144" cy="136.4" r="2.3" fill="#c6c8c6"/>
<circle cx="135.2" cy="137.3" r="2.3" fill="#c6c8c6"/>
<circle cx="139.7" cy="137.4" r="2.3" fill="#c6c8c6"/>
<circle cx="137.5" cy="130.5" r="2.3" fill="#c6c8c6"/>
<circle cx="129.7" cy="130.5" r="2.3" fill="#c6c8c6"/>
<circle cx="131.4" cy="138.8" r="2.3" fill="#c6c8c6"/>
<circle cx="142.2" cy="18.3" r="4.3" fill="#f0f020"/>
<circle cx="102.1" cy="19.5" r="4.5" fill="#e27ef0"/>
<circle cx="63.3" cy="32.3" r="4.3" fill="#e27ef0"/>
<circle cx="30.2" cy="59.7" r="4" fill="#e27ef0"/>
<circle cx="14.2" cy="86.4" r="3" fill="#e27ef0"/>
<circle cx="10.8" cy="125.2" r="3" fill="#e27ef0"/>
<circle cx="15.7" cy="157.2" r="3" fill="#e27ef0"/>
<circle cx="25.6" cy="187.3" r="3" fill="#e27ef0"/>
<circle cx="49.5" cy="220.7" r="3" fill="#e27ef0"/>
<circle cx="80.7" cy="232" r="3.2" fill="#e27ef0"/>
<circle cx="120.9" cy="240.5" r="3.2" fill="#c8c8c8"/>
<circle cx="157.8" cy="232.5" r="3.2" fill="#c8c8c8"/>
<circle cx="197.3" cy="211.6" r="4.4" fill="#e27ef0"/>
<circle cx="227.2" cy="182.5" r="4.4" fill="#e27ef0"/>
<circle cx="236" cy="142" r="4.4" fill="#e27ef0"/>
<circle cx="224" cy="96.8" r="4.2" fill="#e27ef0"/>
<circle cx="208.5" cy="55.6" r="4" fill="#cfcfcf"/>
<circle cx="173.5" cy="32" r="4.2" fill="#cfcfcf"/>
<circle cx="45.7" cy="147.3" r="2.3" fill="#e27ef0"/>
<circle cx="73.9" cy="160.8" r="1.8" fill="#c8c8c8"/>
<circle cx="61" cy="178.4" r="2.5" fill="#e27ef0"/>
<g style="font-family:'Liberation Sans',sans-serif">
<text x="133.90" y="18.96" font-size="4.65" textLength="16.30" lengthAdjust="spacingAndGlyphs" fill="#222" stroke="#222" stroke-width="0.07">StSUT1</text>
<text x="89.00" y="20.64" font-size="6.40" textLength="27.10" lengthAdjust="spacingAndGlyphs" fill="#222" stroke="#222" stroke-width="0.10">StCESA9</text>
<text x="55.20" y="32.49" font-size="5.70" textLength="15.80" lengthAdjust="spacingAndGlyphs" fill="#222" stroke="#222" stroke-width="0.09">StTPL</text>
<text x="21.10" y="59.55" font-size="5.60" textLength="19.00" lengthAdjust="spacingAndGlyphs" fill="#222" stroke="#222" stroke-width="0.08">StPYL4</text>
<text x="4.90" y="87.71" font-size="4.50" textLength="18.70" lengthAdjust="spacingAndGlyphs" fill="#5a5a5a">StMAMYB</text>
<text x="5.50" y="125.61" font-size="4.50" textLength="11.20" lengthAdjust="spacingAndGlyphs" fill="#5a5a5a">StELP</text>
<text x="7.50" y="157.91" font-size="4.50" textLength="17.10" lengthAdjust="spacingAndGlyphs" fill="#5a5a5a">StLAC13</text>
<text x="19.30" y="188.41" font-size="4.50" textLength="13.20" lengthAdjust="spacingAndGlyphs" fill="#5a5a5a">StSLT3</text>
<text x="43.50" y="222.01" font-size="4.50" textLength="13.00" lengthAdjust="spacingAndGlyphs" fill="#5a5a5a">StBRI1</text>
<text x="72.00" y="233.32" font-size="4.10" textLength="17.60" lengthAdjust="spacingAndGlyphs" fill="#5a5a5a">StMYB61</text>
<text x="112.10" y="240.64" font-size="5.00" textLength="20.20" lengthAdjust="spacingAndGlyphs" fill="#222" stroke="#222" stroke-width="0.07">StBBX22</text>
<text x="150.50" y="232.78" font-size="4.40" textLength="15.50" lengthAdjust="spacingAndGlyphs" fill="#222">StDAP4</text>
<text x="183.50" y="212.52" font-size="7.60" textLength="28.00" lengthAdjust="spacingAndGlyphs" fill="#222" stroke="#222" stroke-width="0.11">StMPK9</text>
<text x="209.00" y="182.81" font-size="7.85" textLength="36.20" lengthAdjust="spacingAndGlyphs" fill="#222" stroke="#222" stroke-width="0.12">StERF043</text>
<text x="218.20" y="142.63" font-size="7.90" textLength="33.80" lengthAdjust="spacingAndGlyphs" fill="#222" stroke="#222" stroke-width="0.12">StDEAR3</text>
<text x="212.70" y="97.69" font-size="8.20" textLength="24.60" lengthAdjust="spacingAndGlyphs" fill="#222" stroke="#222" stroke-width="0.12">StARP</text>
<text x="196.90" y="55.28" font-size="7.06" textLength="24.70" lengthAdjust="spacingAndGlyphs" fill="#222" stroke="#222" stroke-width="0.11">StBEE1</text>
<text x="163.00" y="30.67" font-size="6.90" textLength="21.80" lengthAdjust="spacingAndGlyphs" fill="#222" stroke="#222" stroke-width="0.10">StEIN3</text>
<text x="41.50" y="147.69" font-size="3.60" textLength="8.30" lengthAdjust="spacingAndGlyphs" fill="#333">StKP</text>
<text x="70.20" y="161.42" font-size="3.40" textLength="7.40" lengthAdjust="spacingAndGlyphs" fill="#333">StGR</text>
<text x="55.40" y="178.64" font-size="3.60" textLength="11.10" lengthAdjust="spacingAndGlyphs" fill="#333">StSPLN</text>
</g>
<text transform="translate(14.9 13.3) scale(0.95 1)" font-family="Liberation Serif" font-size="13.2" fill="#111">A</text>
<text x="255.3" y="13.3" font-family="Liberation Serif" font-size="13.2" fill="#111">B</text>
<g style="font-family:'Liberation Sans',sans-serif"><rect x="287.45" y="69.56" width="4.7" height="11.04" fill="#3ee6a2"/><path d="M289.80 69.56V69.01M288.90 69.01H290.70" stroke="#9a9a9a" stroke-width="0.4" fill="none"/><rect x="294.15" y="67.35" width="4.7" height="13.25" fill="#3ee6a2"/><path d="M296.50 67.35V65.70M295.60 65.70H297.40" stroke="#9a9a9a" stroke-width="0.4" fill="none"/><rect x="300.85" y="68.46" width="4.7" height="12.14" fill="#3ee6a2"/><path d="M303.20 68.46V67.90M302.30 67.90H304.10" stroke="#9a9a9a" stroke-width="0.4" fill="none"/><rect x="307.55" y="44.17" width="4.7" height="36.43" fill="#3ee6a2"/><path d="M309.90 44.17V40.86M309.00 40.86H310.80" stroke="#9a9a9a" stroke-width="0.4" fill="none"/><rect x="314.25" y="36.44" width="4.7" height="44.16" fill="#3ee6a2"/><path d="M316.60 36.44V34.78M315.70 34.78H317.50" stroke="#9a9a9a" stroke-width="0.4" fill="none"/><rect x="320.95" y="57.97" width="4.7" height="22.63" fill="#3ee6a2"/><path d="M323.30 57.97V57.42M322.40 57.42H324.20" stroke="#9a9a9a" stroke-width="0.4" fill="none"/><rect x="327.65" y="67.90" width="4.7" height="12.70" fill="#3ee6a2"/><path d="M330.00 67.90V67.35M329.10 67.35H330.90" stroke="#9a9a9a" stroke-width="0.4" fill="none"/><rect x="334.35" y="70.66" width="4.7" height="9.94" fill="#3ee6a2"/><path d="M336.70 70.66V70.11M335.80 70.11H337.60" stroke="#9a9a9a" stroke-width="0.4" fill="none"/><polyline points="289.80,69.34 296.50,52.78 303.20,42.84 309.90,44.39 316.60,29.15 323.30,54.99 330.00,69.34 336.70,72.87" fill="none" stroke="#a844f0" stroke-width="1.05" stroke-linejoin="round"/><path d="M285.70 25.40V80.60H341.00V25.40" fill="none" stroke="#8a8a8a" stroke-width="0.45"/><path d="M284.20 80.60H285.70" stroke="#8a8a8a" stroke-width="0.4"/><text x="283.00" y="81.85" font-size="3.6" text-anchor="end" fill="#262626" stroke="#262626" stroke-width="0.1">0</text><path d="M284.20 69.56H285.70" stroke="#8a8a8a" stroke-width="0.4"/><text x="283.00" y="70.81" font-size="3.6" text-anchor="end" fill="#262626" stroke="#262626" stroke-width="0.1">1</text><path d="M284.20 58.52H285.70" stroke="#8a8a8a" stroke-width="0.4"/><text x="283.00" y="59.77" font-size="3.6" text-anchor="end" fill="#262626" stroke="#262626" stroke-width="0.1">2</text><path d="M284.20 47.48H285.70" stroke="#8a8a8a" stroke-width="0.4"/><text x="283.00" y="48.73" font-size="3.6" text-anchor="end" fill="#262626" stroke="#262626" stroke-width="0.1">3</text><path d="M284.20 36.44H285.70" stroke="#8a8a8a" stroke-width="0.4"/><text x="283.00" y="37.69" font-size="3.6" text-anchor="end" fill="#262626" stroke="#262626" stroke-width="0.1">4</text><path d="M284.20 25.40H285.70" stroke="#8a8a8a" stroke-width="0.4"/><text x="283.00" y="26.65" font-size="3.6" text-anchor="end" fill="#262626" stroke="#262626" stroke-width="0.1">5</text><path d="M341.00 80.60H342.50" stroke="#8a8a8a" stroke-width="0.4"/><text x="342.90" y="81.85" font-size="3.6" fill="#262626" stroke="#262626" stroke-width="0.1">0</text><path d="M341.00 69.56H342.50" stroke="#8a8a8a" stroke-width="0.4"/><text x="342.90" y="70.81" font-size="3.6" fill="#262626" stroke="#262626" stroke-width="0.1">50</text><path d="M341.00 58.52H342.50" stroke="#8a8a8a" stroke-width="0.4"/><text x="342.90" y="59.77" font-size="3.6" fill="#262626" stroke="#262626" stroke-width="0.1">100</text><path d="M341.00 47.48H342.50" stroke="#8a8a8a" stroke-width="0.4"/><text x="342.90" y="48.73" font-size="3.6" fill="#262626" stroke="#262626" stroke-width="0.1">150</text><path d="M341.00 36.44H342.50" stroke="#8a8a8a" stroke-width="0.4"/><text x="342.90" y="37.69" font-size="3.6" fill="#262626" stroke="#262626" stroke-width="0.1">200</text><path d="M341.00 25.40H342.50" stroke="#8a8a8a" stroke-width="0.4"/><text x="342.90" y="26.65" font-size="3.6" fill="#262626" stroke="#262626" stroke-width="0.1">250</text><text transform="translate(288.70 85.20) rotate(45)" font-size="3.8" fill="#262626" stroke="#262626" stroke-width="0.1">Le</text><text transform="translate(295.40 85.20) rotate(45)" font-size="3.8" fill="#262626" stroke="#262626" stroke-width="0.1">St</text><text transform="translate(302.10 85.20) rotate(45)" font-size="3.8" fill="#262626" stroke="#262626" stroke-width="0.1">Sl</text><text transform="translate(308.80 85.20) rotate(45)" font-size="3.8" fill="#262626" stroke="#262626" stroke-width="0.1">SD</text><text transform="translate(315.50 85.20) rotate(45)" font-size="3.8" fill="#262626" stroke="#262626" stroke-width="0.1">SD1</text><text transform="translate(322.20 85.20) rotate(45)" font-size="3.8" fill="#262626" stroke="#262626" stroke-width="0.1">SD2</text><text transform="translate(328.90 85.20) rotate(45)" font-size="3.8" fill="#262626" stroke="#262626" stroke-width="0.1">TL1</text><text transform="translate(335.60 85.20) rotate(45)" font-size="3.8" fill="#262626" stroke="#262626" stroke-width="0.1">TL2</text><text x="301.00" y="26.90" font-size="4.45" font-weight="bold" font-style="italic" fill="#111">StSUT1</text><text transform="translate(278.00 53.20) rotate(-90)" font-size="4.5" text-anchor="middle" fill="#262626" stroke="#262626" stroke-width="0.12">Relative expression</text><text transform="translate(353.00 53.70) rotate(90)" font-size="4.2" text-anchor="middle" font-weight="bold" font-style="italic" fill="#2a2a2a">FPKM</text></g>
<g style="font-family:'Liberation Sans',sans-serif"><rect x="379.55" y="78.74" width="4.7" height="1.86" fill="#3ee6a2"/><path d="M381.90 78.74V78.39M381.00 78.39H382.80" stroke="#9a9a9a" stroke-width="0.4" fill="none"/><rect x="386.25" y="74.39" width="4.7" height="6.21" fill="#3ee6a2"/><path d="M388.60 74.39V73.70M387.70 73.70H389.50" stroke="#9a9a9a" stroke-width="0.4" fill="none"/><rect x="392.95" y="78.25" width="4.7" height="2.35" fill="#3ee6a2"/><path d="M395.30 78.25V77.91M394.40 77.91H396.20" stroke="#9a9a9a" stroke-width="0.4" fill="none"/><rect x="399.65" y="38.51" width="4.7" height="42.09" fill="#3ee6a2"/><path d="M402.00 38.51V37.13M401.10 37.13H402.90" stroke="#9a9a9a" stroke-width="0.4" fill="none"/><rect x="406.35" y="30.92" width="4.7" height="49.68" fill="#3ee6a2"/><path d="M408.70 30.92V29.54M407.80 29.54H409.60" stroke="#9a9a9a" stroke-width="0.4" fill="none"/><rect x="413.05" y="73.49" width="4.7" height="7.11" fill="#3ee6a2"/><path d="M415.40 73.49V72.11M414.50 72.11H416.30" stroke="#9a9a9a" stroke-width="0.4" fill="none"/><rect x="419.75" y="75.08" width="4.7" height="5.52" fill="#3ee6a2"/><path d="M422.10 75.08V74.39M421.20 74.39H423.00" stroke="#9a9a9a" stroke-width="0.4" fill="none"/><rect x="426.45" y="75.08" width="4.7" height="5.52" fill="#3ee6a2"/><path d="M428.80 75.08V74.39M427.90 74.39H429.70" stroke="#9a9a9a" stroke-width="0.4" fill="none"/><polyline points="381.90,80.05 388.60,71.22 395.30,71.22 402.00,33.13 408.70,31.47 415.40,62.38 422.10,75.85 428.80,80.05" fill="none" stroke="#a844f0" stroke-width="1.05" stroke-linejoin="round"/><path d="M377.80 25.40V80.60H433.10V25.40" fill="none" stroke="#8a8a8a" stroke-width="0.45"/><path d="M376.30 80.60H377.80" stroke="#8a8a8a" stroke-width="0.4"/><text x="375.10" y="81.85" font-size="3.6" text-anchor="end" fill="#262626" stroke="#262626" stroke-width="0.1">0</text><path d="M376.30 66.80H377.80" stroke="#8a8a8a" stroke-width="0.4"/><text x="375.10" y="68.05" font-size="3.6" text-anchor="end" fill="#262626" stroke="#262626" stroke-width="0.1">2</text><path d="M376.30 53.00H377.80" stroke="#8a8a8a" stroke-width="0.4"/><text x="375.10" y="54.25" font-size="3.6" text-anchor="end" fill="#262626" stroke="#262626" stroke-width="0.1">4</text><path d="M376.30 39.20H377.80" stroke="#8a8a8a" stroke-width="0.4"/><text x="375.10" y="40.45" font-size="3.6" text-anchor="end" fill="#262626" stroke="#262626" stroke-width="0.1">6</text><path d="M376.30 25.40H377.80" stroke="#8a8a8a" stroke-width="0.4"/><text x="375.10" y="26.65" font-size="3.6" text-anchor="end" fill="#262626" stroke="#262626" stroke-width="0.1">8</text><path d="M433.10 80.60H434.60" stroke="#8a8a8a" stroke-width="0.4"/><text x="435.00" y="81.85" font-size="3.6" fill="#262626" stroke="#262626" stroke-width="0.1">0</text><path d="M433.10 69.56H434.60" stroke="#8a8a8a" stroke-width="0.4"/><text x="435.00" y="70.81" font-size="3.6" fill="#262626" stroke="#262626" stroke-width="0.1">20</text><path d="M433.10 58.52H434.60" stroke="#8a8a8a" stroke-width="0.4"/><text x="435.00" y="59.77" font-size="3.6" fill="#262626" stroke="#262626" stroke-width="0.1">40</text><path d="M433.10 47.48H434.60" stroke="#8a8a8a" stroke-width="0.4"/><text x="435.00" y="48.73" font-size="3.6" fill="#262626" stroke="#262626" stroke-width="0.1">60</text><path d="M433.10 36.44H434.60" stroke="#8a8a8a" stroke-width="0.4"/><text x="435.00" y="37.69" font-size="3.6" fill="#262626" stroke="#262626" stroke-width="0.1">80</text><path d="M433.10 25.40H434.60" stroke="#8a8a8a" stroke-width="0.4"/><text x="435.00" y="26.65" font-size="3.6" fill="#262626" stroke="#262626" stroke-width="0.1">100</text><text transform="translate(380.80 85.20) rotate(45)" font-size="3.8" fill="#262626" stroke="#262626" stroke-width="0.1">Le</text><text transform="translate(387.50 85.20) rotate(45)" font-size="3.8" fill="#262626" stroke="#262626" stroke-width="0.1">St</text><text transform="translate(394.20 85.20) rotate(45)" font-size="3.8" fill="#262626" stroke="#262626" stroke-width="0.1">Sl</text><text transform="translate(400.90 85.20) rotate(45)" font-size="3.8" fill="#262626" stroke="#262626" stroke-width="0.1">SD</text><text transform="translate(407.60 85.20) rotate(45)" font-size="3.8" fill="#262626" stroke="#262626" stroke-width="0.1">SD1</text><text transform="translate(414.30 85.20) rotate(45)" font-size="3.8" fill="#262626" stroke="#262626" stroke-width="0.1">SD2</text><text transform="translate(421.00 85.20) rotate(45)" font-size="3.8" fill="#262626" stroke="#262626" stroke-width="0.1">TL1</text><text transform="translate(427.70 85.20) rotate(45)" font-size="3.8" fill="#262626" stroke="#262626" stroke-width="0.1">TL2</text><text x="393.10" y="26.90" font-size="4.45" font-weight="bold" font-style="italic" fill="#111">StPYL4</text><text transform="translate(370.10 53.20) rotate(-90)" font-size="4.5" text-anchor="middle" fill="#262626" stroke="#262626" stroke-width="0.12">Relative expression</text><text transform="translate(445.10 53.70) rotate(90)" font-size="4.2" text-anchor="middle" font-weight="bold" font-style="italic" fill="#2a2a2a">FPKM</text></g>
<g style="font-family:'Liberation Sans',sans-serif"><rect x="475.25" y="80.32" width="4.7" height="0.28" fill="#3ee6a2"/><rect x="481.95" y="80.05" width="4.7" height="0.55" fill="#3ee6a2"/><rect x="488.65" y="80.05" width="4.7" height="0.55" fill="#3ee6a2"/><rect x="495.35" y="73.42" width="4.7" height="7.18" fill="#3ee6a2"/><path d="M497.70 73.42V72.87M496.80 72.87H498.60" stroke="#9a9a9a" stroke-width="0.4" fill="none"/><rect x="502.05" y="34.78" width="4.7" height="45.82" fill="#3ee6a2"/><path d="M504.40 34.78V33.68M503.50 33.68H505.30" stroke="#9a9a9a" stroke-width="0.4" fill="none"/><rect x="508.75" y="77.29" width="4.7" height="3.31" fill="#3ee6a2"/><path d="M511.10 77.29V76.74M510.20 76.74H512.00" stroke="#9a9a9a" stroke-width="0.4" fill="none"/><rect x="515.45" y="80.32" width="4.7" height="0.28" fill="#3ee6a2"/><rect x="522.15" y="80.32" width="4.7" height="0.28" fill="#3ee6a2"/><polyline points="477.60,80.60 484.30,79.68 491.00,63.58 497.70,47.48 504.40,31.84 511.10,73.24 517.80,79.68 524.50,80.60" fill="none" stroke="#a844f0" stroke-width="1.05" stroke-linejoin="round"/><path d="M473.50 25.40V80.60H528.80V25.40" fill="none" stroke="#8a8a8a" stroke-width="0.45"/><path d="M472.00 80.60H473.50" stroke="#8a8a8a" stroke-width="0.4"/><text x="470.80" y="81.85" font-size="3.6" text-anchor="end" fill="#262626" stroke="#262626" stroke-width="0.1">0</text><path d="M472.00 69.56H473.50" stroke="#8a8a8a" stroke-width="0.4"/><text x="470.80" y="70.81" font-size="3.6" text-anchor="end" fill="#262626" stroke="#262626" stroke-width="0.1">2</text><path d="M472.00 58.52H473.50" stroke="#8a8a8a" stroke-width="0.4"/><text x="470.80" y="59.77" font-size="3.6" text-anchor="end" fill="#262626" stroke="#262626" stroke-width="0.1">4</text><path d="M472.00 47.48H473.50" stroke="#8a8a8a" stroke-width="0.4"/><text x="470.80" y="48.73" font-size="3.6" text-anchor="end" fill="#262626" stroke="#262626" stroke-width="0.1">6</text><path d="M472.00 36.44H473.50" stroke="#8a8a8a" stroke-width="0.4"/><text x="470.80" y="37.69" font-size="3.6" text-anchor="end" fill="#262626" stroke="#262626" stroke-width="0.1">8</text><path d="M472.00 25.40H473.50" stroke="#8a8a8a" stroke-width="0.4"/><text x="470.80" y="26.65" font-size="3.6" text-anchor="end" fill="#262626" stroke="#262626" stroke-width="0.1">10</text><path d="M528.80 80.60H530.30" stroke="#8a8a8a" stroke-width="0.4"/><text x="530.70" y="81.85" font-size="3.6" fill="#262626" stroke="#262626" stroke-width="0.1">0</text><path d="M528.80 62.20H530.30" stroke="#8a8a8a" stroke-width="0.4"/><text x="530.70" y="63.45" font-size="3.6" fill="#262626" stroke="#262626" stroke-width="0.1">20</text><path d="M528.80 43.80H530.30" stroke="#8a8a8a" stroke-width="0.4"/><text x="530.70" y="45.05" font-size="3.6" fill="#262626" stroke="#262626" stroke-width="0.1">40</text><path d="M528.80 25.40H530.30" stroke="#8a8a8a" stroke-width="0.4"/><text x="530.70" y="26.65" font-size="3.6" fill="#262626" stroke="#262626" stroke-width="0.1">60</text><text transform="translate(476.50 85.20) rotate(45)" font-size="3.8" fill="#262626" stroke="#262626" stroke-width="0.1">Le</text><text transform="translate(483.20 85.20) rotate(45)" font-size="3.8" fill="#262626" stroke="#262626" stroke-width="0.1">St</text><text transform="translate(489.90 85.20) rotate(45)" font-size="3.8" fill="#262626" stroke="#262626" stroke-width="0.1">Sl</text><text transform="translate(496.60 85.20) rotate(45)" font-size="3.8" fill="#262626" stroke="#262626" stroke-width="0.1">SD</text><text transform="translate(503.30 85.20) rotate(45)" font-size="3.8" fill="#262626" stroke="#262626" stroke-width="0.1">SD1</text><text transform="translate(510.00 85.20) rotate(45)" font-size="3.8" fill="#262626" stroke="#262626" stroke-width="0.1">SD2</text><text transform="translate(516.70 85.20) rotate(45)" font-size="3.8" fill="#262626" stroke="#262626" stroke-width="0.1">TL1</text><text transform="translate(523.40 85.20) rotate(45)" font-size="3.8" fill="#262626" stroke="#262626" stroke-width="0.1">TL2</text><text x="488.80" y="26.90" font-size="4.45" font-weight="bold" font-style="italic" fill="#111">StMYB61</text><text transform="translate(465.80 53.20) rotate(-90)" font-size="4.5" text-anchor="middle" fill="#262626" stroke="#262626" stroke-width="0.12">Relative expression</text><text transform="translate(540.80 53.70) rotate(90)" font-size="4.2" text-anchor="middle" font-weight="bold" font-style="italic" fill="#2a2a2a">FPKM</text></g>
<g style="font-family:'Liberation Sans',sans-serif"><rect x="287.45" y="155.20" width="4.7" height="1.10" fill="#3ee6a2"/><path d="M289.80 155.20V154.92M288.90 154.92H290.70" stroke="#9a9a9a" stroke-width="0.4" fill="none"/><rect x="294.15" y="152.44" width="4.7" height="3.86" fill="#3ee6a2"/><path d="M296.50 152.44V151.88M295.60 151.88H297.40" stroke="#9a9a9a" stroke-width="0.4" fill="none"/><rect x="300.85" y="152.44" width="4.7" height="3.86" fill="#3ee6a2"/><path d="M303.20 152.44V151.88M302.30 151.88H304.10" stroke="#9a9a9a" stroke-width="0.4" fill="none"/><rect x="307.55" y="145.26" width="4.7" height="11.04" fill="#3ee6a2"/><path d="M309.90 145.26V140.84M309.00 140.84H310.80" stroke="#9a9a9a" stroke-width="0.4" fill="none"/><rect x="314.25" y="106.62" width="4.7" height="49.68" fill="#3ee6a2"/><path d="M316.60 106.62V104.96M315.70 104.96H317.50" stroke="#9a9a9a" stroke-width="0.4" fill="none"/><rect x="320.95" y="142.50" width="4.7" height="13.80" fill="#3ee6a2"/><path d="M323.30 142.50V137.53M322.40 137.53H324.20" stroke="#9a9a9a" stroke-width="0.4" fill="none"/><rect x="327.65" y="151.88" width="4.7" height="4.42" fill="#3ee6a2"/><path d="M330.00 151.88V151.33M329.10 151.33H330.90" stroke="#9a9a9a" stroke-width="0.4" fill="none"/><rect x="334.35" y="154.09" width="4.7" height="2.21" fill="#3ee6a2"/><path d="M336.70 154.09V153.82M335.80 153.82H337.60" stroke="#9a9a9a" stroke-width="0.4" fill="none"/><polyline points="289.80,155.36 296.50,152.16 303.20,134.77 309.90,125.39 316.60,107.17 323.30,131.18 330.00,150.23 336.70,154.92" fill="none" stroke="#a844f0" stroke-width="1.05" stroke-linejoin="round"/><path d="M285.70 101.10V156.30H341.00V101.10" fill="none" stroke="#8a8a8a" stroke-width="0.45"/><path d="M284.20 156.30H285.70" stroke="#8a8a8a" stroke-width="0.4"/><text x="283.00" y="157.55" font-size="3.6" text-anchor="end" fill="#262626" stroke="#262626" stroke-width="0.1">0</text><path d="M284.20 145.26H285.70" stroke="#8a8a8a" stroke-width="0.4"/><text x="283.00" y="146.51" font-size="3.6" text-anchor="end" fill="#262626" stroke="#262626" stroke-width="0.1">2</text><path d="M284.20 134.22H285.70" stroke="#8a8a8a" stroke-width="0.4"/><text x="283.00" y="135.47" font-size="3.6" text-anchor="end" fill="#262626" stroke="#262626" stroke-width="0.1">4</text><path d="M284.20 123.18H285.70" stroke="#8a8a8a" stroke-width="0.4"/><text x="283.00" y="124.43" font-size="3.6" text-anchor="end" fill="#262626" stroke="#262626" stroke-width="0.1">6</text><path d="M284.20 112.14H285.70" stroke="#8a8a8a" stroke-width="0.4"/><text x="283.00" y="113.39" font-size="3.6" text-anchor="end" fill="#262626" stroke="#262626" stroke-width="0.1">8</text><path d="M284.20 101.10H285.70" stroke="#8a8a8a" stroke-width="0.4"/><text x="283.00" y="102.35" font-size="3.6" text-anchor="end" fill="#262626" stroke="#262626" stroke-width="0.1">10</text><path d="M341.00 156.30H342.50" stroke="#8a8a8a" stroke-width="0.4"/><text x="342.90" y="157.55" font-size="3.6" fill="#262626" stroke="#262626" stroke-width="0.1">0</text><path d="M341.00 142.50H342.50" stroke="#8a8a8a" stroke-width="0.4"/><text x="342.90" y="143.75" font-size="3.6" fill="#262626" stroke="#262626" stroke-width="0.1">5</text><path d="M341.00 128.70H342.50" stroke="#8a8a8a" stroke-width="0.4"/><text x="342.90" y="129.95" font-size="3.6" fill="#262626" stroke="#262626" stroke-width="0.1">10</text><path d="M341.00 114.90H342.50" stroke="#8a8a8a" stroke-width="0.4"/><text x="342.90" y="116.15" font-size="3.6" fill="#262626" stroke="#262626" stroke-width="0.1">15</text><path d="M341.00 101.10H342.50" stroke="#8a8a8a" stroke-width="0.4"/><text x="342.90" y="102.35" font-size="3.6" fill="#262626" stroke="#262626" stroke-width="0.1">20</text><text transform="translate(288.70 160.90) rotate(45)" font-size="3.8" fill="#262626" stroke="#262626" stroke-width="0.1">Le</text><text transform="translate(295.40 160.90) rotate(45)" font-size="3.8" fill="#262626" stroke="#262626" stroke-width="0.1">St</text><text transform="translate(302.10 160.90) rotate(45)" font-size="3.8" fill="#262626" stroke="#262626" stroke-width="0.1">Sl</text><text transform="translate(308.80 160.90) rotate(45)" font-size="3.8" fill="#262626" stroke="#262626" stroke-width="0.1">SD</text><text transform="translate(315.50 160.90) rotate(45)" font-size="3.8" fill="#262626" stroke="#262626" stroke-width="0.1">SD1</text><text transform="translate(322.20 160.90) rotate(45)" font-size="3.8" fill="#262626" stroke="#262626" stroke-width="0.1">SD2</text><text transform="translate(328.90 160.90) rotate(45)" font-size="3.8" fill="#262626" stroke="#262626" stroke-width="0.1">TL1</text><text transform="translate(335.60 160.90) rotate(45)" font-size="3.8" fill="#262626" stroke="#262626" stroke-width="0.1">TL2</text><text x="301.00" y="102.60" font-size="4.45" font-weight="bold" font-style="italic" fill="#111">StERF043</text><text transform="translate(278.00 128.90) rotate(-90)" font-size="4.5" text-anchor="middle" fill="#262626" stroke="#262626" stroke-width="0.12">Relative expression</text><text transform="translate(353.00 129.40) rotate(90)" font-size="4.2" text-anchor="middle" font-weight="bold" font-style="italic" fill="#2a2a2a">FPKM</text></g>
<g style="font-family:'Liberation Sans',sans-serif"><rect x="379.55" y="148.71" width="4.7" height="7.59" fill="#3ee6a2"/><path d="M381.90 148.71V148.02M381.00 148.02H382.80" stroke="#9a9a9a" stroke-width="0.4" fill="none"/><rect x="386.25" y="149.40" width="4.7" height="6.90" fill="#3ee6a2"/><path d="M388.60 149.40V148.02M387.70 148.02H389.50" stroke="#9a9a9a" stroke-width="0.4" fill="none"/><rect x="392.95" y="147.33" width="4.7" height="8.97" fill="#3ee6a2"/><path d="M395.30 147.33V146.64M394.40 146.64H396.20" stroke="#9a9a9a" stroke-width="0.4" fill="none"/><rect x="399.65" y="132.84" width="4.7" height="23.46" fill="#3ee6a2"/><path d="M402.00 132.84V130.77M401.10 130.77H402.90" stroke="#9a9a9a" stroke-width="0.4" fill="none"/><rect x="406.35" y="106.62" width="4.7" height="49.68" fill="#3ee6a2"/><path d="M408.70 106.62V104.55M407.80 104.55H409.60" stroke="#9a9a9a" stroke-width="0.4" fill="none"/><rect x="413.05" y="135.60" width="4.7" height="20.70" fill="#3ee6a2"/><path d="M415.40 135.60V134.22M414.50 134.22H416.30" stroke="#9a9a9a" stroke-width="0.4" fill="none"/><rect x="419.75" y="141.12" width="4.7" height="15.18" fill="#3ee6a2"/><path d="M422.10 141.12V139.74M421.20 139.74H423.00" stroke="#9a9a9a" stroke-width="0.4" fill="none"/><rect x="426.45" y="152.16" width="4.7" height="4.14" fill="#3ee6a2"/><path d="M428.80 152.16V151.47M427.90 151.47H429.70" stroke="#9a9a9a" stroke-width="0.4" fill="none"/><polyline points="381.90,147.91 388.60,134.00 395.30,133.34 402.00,109.27 408.70,109.27 415.40,133.12 422.10,141.95 428.80,149.46" fill="none" stroke="#a844f0" stroke-width="1.05" stroke-linejoin="round"/><path d="M377.80 101.10V156.30H433.10V101.10" fill="none" stroke="#8a8a8a" stroke-width="0.45"/><path d="M376.30 156.30H377.80" stroke="#8a8a8a" stroke-width="0.4"/><text x="375.10" y="157.55" font-size="3.6" text-anchor="end" fill="#262626" stroke="#262626" stroke-width="0.1">0</text><path d="M376.30 142.50H377.80" stroke="#8a8a8a" stroke-width="0.4"/><text x="375.10" y="143.75" font-size="3.6" text-anchor="end" fill="#262626" stroke="#262626" stroke-width="0.1">2</text><path d="M376.30 128.70H377.80" stroke="#8a8a8a" stroke-width="0.4"/><text x="375.10" y="129.95" font-size="3.6" text-anchor="end" fill="#262626" stroke="#262626" stroke-width="0.1">4</text><path d="M376.30 114.90H377.80" stroke="#8a8a8a" stroke-width="0.4"/><text x="375.10" y="116.15" font-size="3.6" text-anchor="end" fill="#262626" stroke="#262626" stroke-width="0.1">6</text><path d="M376.30 101.10H377.80" stroke="#8a8a8a" stroke-width="0.4"/><text x="375.10" y="102.35" font-size="3.6" text-anchor="end" fill="#262626" stroke="#262626" stroke-width="0.1">8</text><path d="M433.10 156.30H434.60" stroke="#8a8a8a" stroke-width="0.4"/><text x="435.00" y="157.55" font-size="3.6" fill="#262626" stroke="#262626" stroke-width="0.1">0</text><path d="M433.10 145.26H434.60" stroke="#8a8a8a" stroke-width="0.4"/><text x="435.00" y="146.51" font-size="3.6" fill="#262626" stroke="#262626" stroke-width="0.1">50</text><path d="M433.10 134.22H434.60" stroke="#8a8a8a" stroke-width="0.4"/><text x="435.00" y="135.47" font-size="3.6" fill="#262626" stroke="#262626" stroke-width="0.1">100</text><path d="M433.10 123.18H434.60" stroke="#8a8a8a" stroke-width="0.4"/><text x="435.00" y="124.43" font-size="3.6" fill="#262626" stroke="#262626" stroke-width="0.1">150</text><path d="M433.10 112.14H434.60" stroke="#8a8a8a" stroke-width="0.4"/><text x="435.00" y="113.39" font-size="3.6" fill="#262626" stroke="#262626" stroke-width="0.1">200</text><path d="M433.10 101.10H434.60" stroke="#8a8a8a" stroke-width="0.4"/><text x="435.00" y="102.35" font-size="3.6" fill="#262626" stroke="#262626" stroke-width="0.1">250</text><text transform="translate(380.80 160.90) rotate(45)" font-size="3.8" fill="#262626" stroke="#262626" stroke-width="0.1">Le</text><text transform="translate(387.50 160.90) rotate(45)" font-size="3.8" fill="#262626" stroke="#262626" stroke-width="0.1">St</text><text transform="translate(394.20 160.90) rotate(45)" font-size="3.8" fill="#262626" stroke="#262626" stroke-width="0.1">Sl</text><text transform="translate(400.90 160.90) rotate(45)" font-size="3.8" fill="#262626" stroke="#262626" stroke-width="0.1">SD</text><text transform="translate(407.60 160.90) rotate(45)" font-size="3.8" fill="#262626" stroke="#262626" stroke-width="0.1">SD1</text><text transform="translate(414.30 160.90) rotate(45)" font-size="3.8" fill="#262626" stroke="#262626" stroke-width="0.1">SD2</text><text transform="translate(421.00 160.90) rotate(45)" font-size="3.8" fill="#262626" stroke="#262626" stroke-width="0.1">TL1</text><text transform="translate(427.70 160.90) rotate(45)" font-size="3.8" fill="#262626" stroke="#262626" stroke-width="0.1">TL2</text><text x="393.10" y="102.60" font-size="4.45" font-weight="bold" font-style="italic" fill="#111">StCESA9</text><text transform="translate(370.10 128.90) rotate(-90)" font-size="4.5" text-anchor="middle" fill="#262626" stroke="#262626" stroke-width="0.12">Relative expression</text><text transform="translate(445.10 129.40) rotate(90)" font-size="4.2" text-anchor="middle" font-weight="bold" font-style="italic" fill="#2a2a2a">FPKM</text></g>
<g style="font-family:'Liberation Sans',sans-serif"><rect x="475.25" y="151.88" width="4.7" height="4.42" fill="#3ee6a2"/><path d="M477.60 151.88V150.78M476.70 150.78H478.50" stroke="#9a9a9a" stroke-width="0.4" fill="none"/><rect x="481.95" y="148.02" width="4.7" height="8.28" fill="#3ee6a2"/><path d="M484.30 148.02V145.26M483.40 145.26H485.20" stroke="#9a9a9a" stroke-width="0.4" fill="none"/><rect x="488.65" y="155.75" width="4.7" height="0.55" fill="#3ee6a2"/><rect x="495.35" y="110.48" width="4.7" height="45.82" fill="#3ee6a2"/><path d="M497.70 110.48V108.83M496.80 108.83H498.60" stroke="#9a9a9a" stroke-width="0.4" fill="none"/><rect x="502.05" y="136.98" width="4.7" height="19.32" fill="#3ee6a2"/><path d="M504.40 136.98V134.77M503.50 134.77H505.30" stroke="#9a9a9a" stroke-width="0.4" fill="none"/><rect x="508.75" y="149.12" width="4.7" height="7.18" fill="#3ee6a2"/><path d="M511.10 149.12V148.57M510.20 148.57H512.00" stroke="#9a9a9a" stroke-width="0.4" fill="none"/><rect x="515.45" y="156.19" width="4.7" height="0.11" fill="#3ee6a2"/><rect x="522.15" y="156.19" width="4.7" height="0.11" fill="#3ee6a2"/><polyline points="477.60,154.92 484.30,131.28 491.00,154.92 497.70,104.04 504.40,109.93 511.10,130.08 517.80,144.34 524.50,156.30" fill="none" stroke="#a844f0" stroke-width="1.05" stroke-linejoin="round"/><path d="M473.50 101.10V156.30H528.80V101.10" fill="none" stroke="#8a8a8a" stroke-width="0.45"/><path d="M472.00 156.30H473.50" stroke="#8a8a8a" stroke-width="0.4"/><text x="470.80" y="157.55" font-size="3.6" text-anchor="end" fill="#262626" stroke="#262626" stroke-width="0.1">0</text><path d="M472.00 145.26H473.50" stroke="#8a8a8a" stroke-width="0.4"/><text x="470.80" y="146.51" font-size="3.6" text-anchor="end" fill="#262626" stroke="#262626" stroke-width="0.1">2</text><path d="M472.00 134.22H473.50" stroke="#8a8a8a" stroke-width="0.4"/><text x="470.80" y="135.47" font-size="3.6" text-anchor="end" fill="#262626" stroke="#262626" stroke-width="0.1">4</text><path d="M472.00 123.18H473.50" stroke="#8a8a8a" stroke-width="0.4"/><text x="470.80" y="124.43" font-size="3.6" text-anchor="end" fill="#262626" stroke="#262626" stroke-width="0.1">6</text><path d="M472.00 112.14H473.50" stroke="#8a8a8a" stroke-width="0.4"/><text x="470.80" y="113.39" font-size="3.6" text-anchor="end" fill="#262626" stroke="#262626" stroke-width="0.1">8</text><path d="M472.00 101.10H473.50" stroke="#8a8a8a" stroke-width="0.4"/><text x="470.80" y="102.35" font-size="3.6" text-anchor="end" fill="#262626" stroke="#262626" stroke-width="0.1">10</text><path d="M528.80 156.30H530.30" stroke="#8a8a8a" stroke-width="0.4"/><text x="530.70" y="157.55" font-size="3.6" fill="#262626" stroke="#262626" stroke-width="0.1">0</text><path d="M528.80 137.90H530.30" stroke="#8a8a8a" stroke-width="0.4"/><text x="530.70" y="139.15" font-size="3.6" fill="#262626" stroke="#262626" stroke-width="0.1">20</text><path d="M528.80 119.50H530.30" stroke="#8a8a8a" stroke-width="0.4"/><text x="530.70" y="120.75" font-size="3.6" fill="#262626" stroke="#262626" stroke-width="0.1">40</text><path d="M528.80 101.10H530.30" stroke="#8a8a8a" stroke-width="0.4"/><text x="530.70" y="102.35" font-size="3.6" fill="#262626" stroke="#262626" stroke-width="0.1">60</text><text transform="translate(476.50 160.90) rotate(45)" font-size="3.8" fill="#262626" stroke="#262626" stroke-width="0.1">Le</text><text transform="translate(483.20 160.90) rotate(45)" font-size="3.8" fill="#262626" stroke="#262626" stroke-width="0.1">St</text><text transform="translate(489.90 160.90) rotate(45)" font-size="3.8" fill="#262626" stroke="#262626" stroke-width="0.1">Sl</text><text transform="translate(496.60 160.90) rotate(45)" font-size="3.8" fill="#262626" stroke="#262626" stroke-width="0.1">SD</text><text transform="translate(503.30 160.90) rotate(45)" font-size="3.8" fill="#262626" stroke="#262626" stroke-width="0.1">SD1</text><text transform="translate(510.00 160.90) rotate(45)" font-size="3.8" fill="#262626" stroke="#262626" stroke-width="0.1">SD2</text><text transform="translate(516.70 160.90) rotate(45)" font-size="3.8" fill="#262626" stroke="#262626" stroke-width="0.1">TL1</text><text transform="translate(523.40 160.90) rotate(45)" font-size="3.8" fill="#262626" stroke="#262626" stroke-width="0.1">TL2</text><text x="488.80" y="102.60" font-size="4.45" font-weight="bold" font-style="italic" fill="#111">StNLP</text><text transform="translate(465.80 128.90) rotate(-90)" font-size="4.5" text-anchor="middle" fill="#262626" stroke="#262626" stroke-width="0.12">Relative expression</text><text transform="translate(540.80 129.40) rotate(90)" font-size="4.2" text-anchor="middle" font-weight="bold" font-style="italic" fill="#2a2a2a">FPKM</text></g>
<g style="font-family:'Liberation Sans',sans-serif"><rect x="287.45" y="225.58" width="4.7" height="4.42" fill="#3ee6a2"/><path d="M289.80 225.58V225.03M288.90 225.03H290.70" stroke="#9a9a9a" stroke-width="0.4" fill="none"/><rect x="294.15" y="226.14" width="4.7" height="3.86" fill="#3ee6a2"/><path d="M296.50 226.14V225.58M295.60 225.58H297.40" stroke="#9a9a9a" stroke-width="0.4" fill="none"/><rect x="300.85" y="228.90" width="4.7" height="1.10" fill="#3ee6a2"/><path d="M303.20 228.90V228.62M302.30 228.62H304.10" stroke="#9a9a9a" stroke-width="0.4" fill="none"/><rect x="307.55" y="211.23" width="4.7" height="18.77" fill="#3ee6a2"/><path d="M309.90 211.23V207.92M309.00 207.92H310.80" stroke="#9a9a9a" stroke-width="0.4" fill="none"/><rect x="314.25" y="183.08" width="4.7" height="46.92" fill="#3ee6a2"/><path d="M316.60 183.08V179.22M315.70 179.22H317.50" stroke="#9a9a9a" stroke-width="0.4" fill="none"/><rect x="320.95" y="217.86" width="4.7" height="12.14" fill="#3ee6a2"/><path d="M323.30 217.86V216.75M322.40 216.75H324.20" stroke="#9a9a9a" stroke-width="0.4" fill="none"/><rect x="327.65" y="229.72" width="4.7" height="0.28" fill="#3ee6a2"/><rect x="334.35" y="229.89" width="4.7" height="0.11" fill="#3ee6a2"/><polyline points="289.80,224.66 296.50,222.46 303.20,228.80 309.90,195.78 316.60,185.10 323.30,201.66 330.00,215.83 336.70,229.45" fill="none" stroke="#a844f0" stroke-width="1.05" stroke-linejoin="round"/><path d="M285.70 174.80V230.00H341.00V174.80" fill="none" stroke="#8a8a8a" stroke-width="0.45"/><path d="M284.20 230.00H285.70" stroke="#8a8a8a" stroke-width="0.4"/><text x="283.00" y="231.25" font-size="3.6" text-anchor="end" fill="#262626" stroke="#262626" stroke-width="0.1">0</text><path d="M284.20 218.96H285.70" stroke="#8a8a8a" stroke-width="0.4"/><text x="283.00" y="220.21" font-size="3.6" text-anchor="end" fill="#262626" stroke="#262626" stroke-width="0.1">2</text><path d="M284.20 207.92H285.70" stroke="#8a8a8a" stroke-width="0.4"/><text x="283.00" y="209.17" font-size="3.6" text-anchor="end" fill="#262626" stroke="#262626" stroke-width="0.1">4</text><path d="M284.20 196.88H285.70" stroke="#8a8a8a" stroke-width="0.4"/><text x="283.00" y="198.13" font-size="3.6" text-anchor="end" fill="#262626" stroke="#262626" stroke-width="0.1">6</text><path d="M284.20 185.84H285.70" stroke="#8a8a8a" stroke-width="0.4"/><text x="283.00" y="187.09" font-size="3.6" text-anchor="end" fill="#262626" stroke="#262626" stroke-width="0.1">8</text><path d="M284.20 174.80H285.70" stroke="#8a8a8a" stroke-width="0.4"/><text x="283.00" y="176.05" font-size="3.6" text-anchor="end" fill="#262626" stroke="#262626" stroke-width="0.1">10</text><path d="M341.00 230.00H342.50" stroke="#8a8a8a" stroke-width="0.4"/><text x="342.90" y="231.25" font-size="3.6" fill="#262626" stroke="#262626" stroke-width="0.1">0</text><path d="M341.00 211.60H342.50" stroke="#8a8a8a" stroke-width="0.4"/><text x="342.90" y="212.85" font-size="3.6" fill="#262626" stroke="#262626" stroke-width="0.1">100</text><path d="M341.00 193.20H342.50" stroke="#8a8a8a" stroke-width="0.4"/><text x="342.90" y="194.45" font-size="3.6" fill="#262626" stroke="#262626" stroke-width="0.1">200</text><path d="M341.00 174.80H342.50" stroke="#8a8a8a" stroke-width="0.4"/><text x="342.90" y="176.05" font-size="3.6" fill="#262626" stroke="#262626" stroke-width="0.1">300</text><text transform="translate(288.70 234.60) rotate(45)" font-size="3.8" fill="#262626" stroke="#262626" stroke-width="0.1">Le</text><text transform="translate(295.40 234.60) rotate(45)" font-size="3.8" fill="#262626" stroke="#262626" stroke-width="0.1">St</text><text transform="translate(302.10 234.60) rotate(45)" font-size="3.8" fill="#262626" stroke="#262626" stroke-width="0.1">Sl</text><text transform="translate(308.80 234.60) rotate(45)" font-size="3.8" fill="#262626" stroke="#262626" stroke-width="0.1">SD</text><text transform="translate(315.50 234.60) rotate(45)" font-size="3.8" fill="#262626" stroke="#262626" stroke-width="0.1">SD1</text><text transform="translate(322.20 234.60) rotate(45)" font-size="3.8" fill="#262626" stroke="#262626" stroke-width="0.1">SD2</text><text transform="translate(328.90 234.60) rotate(45)" font-size="3.8" fill="#262626" stroke="#262626" stroke-width="0.1">TL1</text><text transform="translate(335.60 234.60) rotate(45)" font-size="3.8" fill="#262626" stroke="#262626" stroke-width="0.1">TL2</text><text x="301.00" y="176.30" font-size="4.45" font-weight="bold" font-style="italic" fill="#111">StHY5</text><text transform="translate(278.00 202.60) rotate(-90)" font-size="4.5" text-anchor="middle" fill="#262626" stroke="#262626" stroke-width="0.12">Relative expression</text><text transform="translate(353.00 203.10) rotate(90)" font-size="4.2" text-anchor="middle" font-weight="bold" font-style="italic" fill="#2a2a2a">FPKM</text><rect x="285.90" y="243.05" width="6" height="1.5" fill="#3ee6a2"/><text x="295.40" y="244.80" font-size="2.9" fill="#777">qRT-PCR</text><path d="M315.20 243.80H321.70" stroke="#b860f0" stroke-width="1.4"/><text x="324.90" y="244.80" font-size="3.0" fill="#777">RNA-Seq</text></g>
<g style="font-family:'Liberation Sans',sans-serif"><rect x="379.55" y="228.34" width="4.7" height="1.66" fill="#3ee6a2"/><path d="M381.90 228.34V228.07M381.00 228.07H382.80" stroke="#9a9a9a" stroke-width="0.4" fill="none"/><rect x="386.25" y="228.62" width="4.7" height="1.38" fill="#3ee6a2"/><path d="M388.60 228.62V228.34M387.70 228.34H389.50" stroke="#9a9a9a" stroke-width="0.4" fill="none"/><rect x="392.95" y="229.89" width="4.7" height="0.11" fill="#3ee6a2"/><rect x="399.65" y="224.48" width="4.7" height="5.52" fill="#3ee6a2"/><path d="M402.00 224.48V223.93M401.10 223.93H402.90" stroke="#9a9a9a" stroke-width="0.4" fill="none"/><rect x="406.35" y="188.60" width="4.7" height="41.40" fill="#3ee6a2"/><path d="M408.70 188.60V187.50M407.80 187.50H409.60" stroke="#9a9a9a" stroke-width="0.4" fill="none"/><rect x="413.05" y="213.99" width="4.7" height="16.01" fill="#3ee6a2"/><path d="M415.40 213.99V212.34M414.50 212.34H416.30" stroke="#9a9a9a" stroke-width="0.4" fill="none"/><rect x="419.75" y="228.90" width="4.7" height="1.10" fill="#3ee6a2"/><path d="M422.10 228.90V228.62M421.20 228.62H423.00" stroke="#9a9a9a" stroke-width="0.4" fill="none"/><rect x="426.45" y="229.89" width="4.7" height="0.11" fill="#3ee6a2"/><polyline points="381.90,229.03 388.60,226.69 395.30,230.00 402.00,209.85 408.70,181.70 415.40,201.02 422.10,221.72 428.80,230.00" fill="none" stroke="#a844f0" stroke-width="1.05" stroke-linejoin="round"/><path d="M377.80 174.80V230.00H433.10V174.80" fill="none" stroke="#8a8a8a" stroke-width="0.45"/><path d="M376.30 230.00H377.80" stroke="#8a8a8a" stroke-width="0.4"/><text x="375.10" y="231.25" font-size="3.6" text-anchor="end" fill="#262626" stroke="#262626" stroke-width="0.1">0</text><path d="M376.30 218.96H377.80" stroke="#8a8a8a" stroke-width="0.4"/><text x="375.10" y="220.21" font-size="3.6" text-anchor="end" fill="#262626" stroke="#262626" stroke-width="0.1">2</text><path d="M376.30 207.92H377.80" stroke="#8a8a8a" stroke-width="0.4"/><text x="375.10" y="209.17" font-size="3.6" text-anchor="end" fill="#262626" stroke="#262626" stroke-width="0.1">4</text><path d="M376.30 196.88H377.80" stroke="#8a8a8a" stroke-width="0.4"/><text x="375.10" y="198.13" font-size="3.6" text-anchor="end" fill="#262626" stroke="#262626" stroke-width="0.1">6</text><path d="M376.30 185.84H377.80" stroke="#8a8a8a" stroke-width="0.4"/><text x="375.10" y="187.09" font-size="3.6" text-anchor="end" fill="#262626" stroke="#262626" stroke-width="0.1">8</text><path d="M376.30 174.80H377.80" stroke="#8a8a8a" stroke-width="0.4"/><text x="375.10" y="176.05" font-size="3.6" text-anchor="end" fill="#262626" stroke="#262626" stroke-width="0.1">10</text><path d="M433.10 230.00H434.60" stroke="#8a8a8a" stroke-width="0.4"/><text x="435.00" y="231.25" font-size="3.6" fill="#262626" stroke="#262626" stroke-width="0.1">0</text><path d="M433.10 216.20H434.60" stroke="#8a8a8a" stroke-width="0.4"/><text x="435.00" y="217.45" font-size="3.6" fill="#262626" stroke="#262626" stroke-width="0.1">10</text><path d="M433.10 202.40H434.60" stroke="#8a8a8a" stroke-width="0.4"/><text x="435.00" y="203.65" font-size="3.6" fill="#262626" stroke="#262626" stroke-width="0.1">20</text><path d="M433.10 188.60H434.60" stroke="#8a8a8a" stroke-width="0.4"/><text x="435.00" y="189.85" font-size="3.6" fill="#262626" stroke="#262626" stroke-width="0.1">30</text><path d="M433.10 174.80H434.60" stroke="#8a8a8a" stroke-width="0.4"/><text x="435.00" y="176.05" font-size="3.6" fill="#262626" stroke="#262626" stroke-width="0.1">40</text><text transform="translate(380.80 234.60) rotate(45)" font-size="3.8" fill="#262626" stroke="#262626" stroke-width="0.1">Le</text><text transform="translate(387.50 234.60) rotate(45)" font-size="3.8" fill="#262626" stroke="#262626" stroke-width="0.1">St</text><text transform="translate(394.20 234.60) rotate(45)" font-size="3.8" fill="#262626" stroke="#262626" stroke-width="0.1">Sl</text><text transform="translate(400.90 234.60) rotate(45)" font-size="3.8" fill="#262626" stroke="#262626" stroke-width="0.1">SD</text><text transform="translate(407.60 234.60) rotate(45)" font-size="3.8" fill="#262626" stroke="#262626" stroke-width="0.1">SD1</text><text transform="translate(414.30 234.60) rotate(45)" font-size="3.8" fill="#262626" stroke="#262626" stroke-width="0.1">SD2</text><text transform="translate(421.00 234.60) rotate(45)" font-size="3.8" fill="#262626" stroke="#262626" stroke-width="0.1">TL1</text><text transform="translate(427.70 234.60) rotate(45)" font-size="3.8" fill="#262626" stroke="#262626" stroke-width="0.1">TL2</text><text x="393.10" y="176.30" font-size="4.45" font-weight="bold" font-style="italic" fill="#111">StDAP4</text><text transform="translate(370.10 202.60) rotate(-90)" font-size="4.5" text-anchor="middle" fill="#262626" stroke="#262626" stroke-width="0.12">Relative expression</text><text transform="translate(445.10 203.10) rotate(90)" font-size="4.2" text-anchor="middle" font-weight="bold" font-style="italic" fill="#2a2a2a">FPKM</text><rect x="378.00" y="243.05" width="6" height="1.5" fill="#3ee6a2"/><text x="387.50" y="244.80" font-size="2.9" fill="#777">qRT-PCR</text><path d="M407.30 243.80H413.80" stroke="#b860f0" stroke-width="1.4"/><text x="417.00" y="244.80" font-size="3.0" fill="#777">RNA-Seq</text></g>
<g style="font-family:'Liberation Sans',sans-serif"><rect x="475.25" y="226.41" width="4.7" height="3.59" fill="#3ee6a2"/><path d="M477.60 226.41V226.14M476.70 226.14H478.50" stroke="#9a9a9a" stroke-width="0.4" fill="none"/><rect x="481.95" y="223.38" width="4.7" height="6.62" fill="#3ee6a2"/><path d="M484.30 223.38V222.55M483.40 222.55H485.20" stroke="#9a9a9a" stroke-width="0.4" fill="none"/><rect x="488.65" y="228.34" width="4.7" height="1.66" fill="#3ee6a2"/><path d="M491.00 228.34V228.07M490.10 228.07H491.90" stroke="#9a9a9a" stroke-width="0.4" fill="none"/><rect x="495.35" y="223.38" width="4.7" height="6.62" fill="#3ee6a2"/><path d="M497.70 223.38V222.00M496.80 222.00H498.60" stroke="#9a9a9a" stroke-width="0.4" fill="none"/><rect x="502.05" y="193.29" width="4.7" height="36.71" fill="#3ee6a2"/><path d="M504.40 193.29V190.53M503.50 190.53H505.30" stroke="#9a9a9a" stroke-width="0.4" fill="none"/><rect x="508.75" y="217.86" width="4.7" height="12.14" fill="#3ee6a2"/><path d="M511.10 217.86V217.03M510.20 217.03H512.00" stroke="#9a9a9a" stroke-width="0.4" fill="none"/><rect x="515.45" y="226.41" width="4.7" height="3.59" fill="#3ee6a2"/><path d="M517.80 226.41V226.14M516.90 226.14H518.70" stroke="#9a9a9a" stroke-width="0.4" fill="none"/><rect x="522.15" y="228.07" width="4.7" height="1.93" fill="#3ee6a2"/><path d="M524.50 228.07V227.79M523.60 227.79H525.40" stroke="#9a9a9a" stroke-width="0.4" fill="none"/><polyline points="477.60,226.47 484.30,210.35 491.00,219.84 497.70,194.89 504.40,182.31 511.10,201.96 517.80,216.31 524.50,227.35" fill="none" stroke="#a844f0" stroke-width="1.05" stroke-linejoin="round"/><path d="M473.50 174.80V230.00H528.80V174.80" fill="none" stroke="#8a8a8a" stroke-width="0.45"/><path d="M472.00 230.00H473.50" stroke="#8a8a8a" stroke-width="0.4"/><text x="470.80" y="231.25" font-size="3.6" text-anchor="end" fill="#262626" stroke="#262626" stroke-width="0.1">0</text><path d="M472.00 216.20H473.50" stroke="#8a8a8a" stroke-width="0.4"/><text x="470.80" y="217.45" font-size="3.6" text-anchor="end" fill="#262626" stroke="#262626" stroke-width="0.1">5</text><path d="M472.00 202.40H473.50" stroke="#8a8a8a" stroke-width="0.4"/><text x="470.80" y="203.65" font-size="3.6" text-anchor="end" fill="#262626" stroke="#262626" stroke-width="0.1">10</text><path d="M472.00 188.60H473.50" stroke="#8a8a8a" stroke-width="0.4"/><text x="470.80" y="189.85" font-size="3.6" text-anchor="end" fill="#262626" stroke="#262626" stroke-width="0.1">15</text><path d="M472.00 174.80H473.50" stroke="#8a8a8a" stroke-width="0.4"/><text x="470.80" y="176.05" font-size="3.6" text-anchor="end" fill="#262626" stroke="#262626" stroke-width="0.1">20</text><path d="M528.80 230.00H530.30" stroke="#8a8a8a" stroke-width="0.4"/><text x="530.70" y="231.25" font-size="3.6" fill="#262626" stroke="#262626" stroke-width="0.1">0</text><path d="M528.80 218.96H530.30" stroke="#8a8a8a" stroke-width="0.4"/><text x="530.70" y="220.21" font-size="3.6" fill="#262626" stroke="#262626" stroke-width="0.1">50</text><path d="M528.80 207.92H530.30" stroke="#8a8a8a" stroke-width="0.4"/><text x="530.70" y="209.17" font-size="3.6" fill="#262626" stroke="#262626" stroke-width="0.1">100</text><path d="M528.80 196.88H530.30" stroke="#8a8a8a" stroke-width="0.4"/><text x="530.70" y="198.13" font-size="3.6" fill="#262626" stroke="#262626" stroke-width="0.1">150</text><path d="M528.80 185.84H530.30" stroke="#8a8a8a" stroke-width="0.4"/><text x="530.70" y="187.09" font-size="3.6" fill="#262626" stroke="#262626" stroke-width="0.1">200</text><path d="M528.80 174.80H530.30" stroke="#8a8a8a" stroke-width="0.4"/><text x="530.70" y="176.05" font-size="3.6" fill="#262626" stroke="#262626" stroke-width="0.1">250</text><text transform="translate(476.50 234.60) rotate(45)" font-size="3.8" fill="#262626" stroke="#262626" stroke-width="0.1">Le</text><text transform="translate(483.20 234.60) rotate(45)" font-size="3.8" fill="#262626" stroke="#262626" stroke-width="0.1">St</text><text transform="translate(489.90 234.60) rotate(45)" font-size="3.8" fill="#262626" stroke="#262626" stroke-width="0.1">Sl</text><text transform="translate(496.60 234.60) rotate(45)" font-size="3.8" fill="#262626" stroke="#262626" stroke-width="0.1">SD</text><text transform="translate(503.30 234.60) rotate(45)" font-size="3.8" fill="#262626" stroke="#262626" stroke-width="0.1">SD1</text><text transform="translate(510.00 234.60) rotate(45)" font-size="3.8" fill="#262626" stroke="#262626" stroke-width="0.1">SD2</text><text transform="translate(516.70 234.60) rotate(45)" font-size="3.8" fill="#262626" stroke="#262626" stroke-width="0.1">TL1</text><text transform="translate(523.40 234.60) rotate(45)" font-size="3.8" fill="#262626" stroke="#262626" stroke-width="0.1">TL2</text><text x="488.80" y="176.30" font-size="4.45" font-weight="bold" font-style="italic" fill="#111">StMPK9</text><text transform="translate(465.80 202.60) rotate(-90)" font-size="4.5" text-anchor="middle" fill="#262626" stroke="#262626" stroke-width="0.12">Relative expression</text><text transform="translate(540.80 203.10) rotate(90)" font-size="4.2" text-anchor="middle" font-weight="bold" font-style="italic" fill="#2a2a2a">FPKM</text><rect x="473.70" y="243.05" width="6" height="1.5" fill="#3ee6a2"/><text x="483.20" y="244.80" font-size="2.9" fill="#777">qRT-PCR</text><path d="M503.00 243.80H509.50" stroke="#b860f0" stroke-width="1.4"/><text x="512.70" y="244.80" font-size="3.0" fill="#777">RNA-Seq</text></g>
</svg></body></html>
